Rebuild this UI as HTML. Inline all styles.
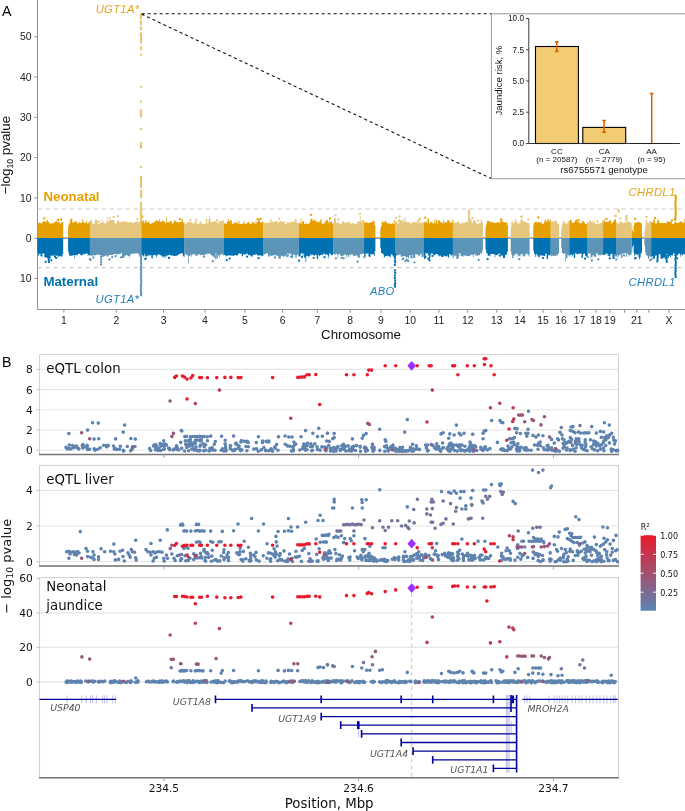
<!DOCTYPE html>
<html lang="en"><head><meta charset="utf-8"><title>Figure: neonatal jaundice GWAS</title>
<style>html,body{margin:0;padding:0;background:#fff}svg{display:block}</style></head><body>
<svg width="685" height="811" viewBox="0 0 685 811">
<rect width="685" height="811" fill="#fff"/>
<g font-family="'Liberation Sans',Arial,sans-serif">
<path d="M37.5 0V309.5 H685" fill="none" stroke="#8f8f8f" stroke-width="1"/>
<path d="M37.5 36.7h-3.2M37.5 77h-3.2M37.5 117.3h-3.2M37.5 157.6h-3.2M37.5 197.9h-3.2M37.5 238.2h-3.2M37.5 278.5h-3.2M63.9 309.5v3.2M116.3 309.5v3.2M163.6 309.5v3.2M205 309.5v3.2M244.9 309.5v3.2M282.6 309.5v3.2M317.3 309.5v3.2M350.2 309.5v3.2M381 309.5v3.2M410.3 309.5v3.2M439 309.5v3.2M467.7 309.5v3.2M496.8 309.5v3.2M520 309.5v3.2M543 309.5v3.2M561 309.5v3.2M579.5 309.5v3.2M596 309.5v3.2M609.9 309.5v3.2M624.6 309.5v3.2M636.8 309.5v3.2M648.8 309.5v3.2M668.9 309.5v3.2" fill="none" stroke="#8f8f8f" stroke-width="1"/>
<g font-size="10.4" fill="#222" text-anchor="end">
<text x="31.6" y="40.4">50</text>
<text x="31.6" y="80.7">40</text>
<text x="31.6" y="121">30</text>
<text x="31.6" y="161.3">20</text>
<text x="31.6" y="201.6">10</text>
<text x="31.6" y="241.9">0</text>
<text x="31.6" y="282.2">10</text>
</g>
<g font-size="10.4" fill="#222" text-anchor="middle">
<text x="63.9" y="324.4">1</text>
<text x="116.3" y="324.4">2</text>
<text x="163.6" y="324.4">3</text>
<text x="205" y="324.4">4</text>
<text x="244.9" y="324.4">5</text>
<text x="282.6" y="324.4">6</text>
<text x="317.3" y="324.4">7</text>
<text x="350.2" y="324.4">8</text>
<text x="381" y="324.4">9</text>
<text x="410.3" y="324.4">10</text>
<text x="439" y="324.4">11</text>
<text x="467.7" y="324.4">12</text>
<text x="496.8" y="324.4">13</text>
<text x="520" y="324.4">14</text>
<text x="543" y="324.4">15</text>
<text x="561" y="324.4">16</text>
<text x="579.5" y="324.4">17</text>
<text x="596" y="324.4">18</text>
<text x="609.9" y="324.4">19</text>
<text x="636.8" y="324.4">21</text>
<text x="668.9" y="324.4">X</text>
</g>
<text x="361" y="339.2" font-size="13.3" fill="#111" text-anchor="middle">Chromosome</text>
<text transform="translate(10.2 155) rotate(-90)" font-size="13.4" fill="#111" text-anchor="middle">−log<tspan font-size="8.6" dy="2.4">10</tspan><tspan dy="-2.4"> pvalue</tspan></text>
<text x="2" y="16.2" font-size="14.2" fill="#000">A</text>
<path d="M37.5 209H685M37.5 267.6H685" stroke="#c9c9c9" stroke-width="1.2" stroke-dasharray="4.2 3.8" fill="none"/>
<path d="M37.5 238H685" stroke="#333" stroke-width=".8" fill="none"/>
<path d="M37.3 238V225.8H38V223.6H38.7V222.6H39.4V222.8H40.1V223H40.8V223.2H41.5V223.6H42.2V221.8H42.9V222.1H43.6V220.9H44.3V220.9H45V221.7H45.7V221.9H46.4V220.1H47.1V220.1H47.8V221.7H48.5V221.7H49.2V223.4H49.9V223H50.6V224.1H51.3V223.6H52V223.1H52.7V223.4H53.4V223.2H54.1V221.9H54.8V221.6H55.5V222.1H56.2V220.2H56.9V221.9H57.6V222H58.3V222H59V222.1H59.7V223.5H60.4V223.5H61.1V222.5H61.8V221.9H62.5V222.6H63.2V225.5H63.2V238ZM68.1 238V225.9H68.8V222.3H69.5V223.9H70.2V218.8H70.9V218.8H71.6V218.8H72.3V222.8H73V222.3H73.7V222.4H74.4V220.9H75.1V221.4H75.8V221.5H76.5V221.8H77.2V223.4H77.9V223.3H78.6V222.9H79.3V221.8H80V223H80.7V222.8H81.4V223H82.1V219.2H82.8V221.7H83.5V221.5H84.2V223.1H84.9V223.1H85.6V222.7H86.3V220.7H87V223.4H87.7V223H88.4V223H89.1V221.3H89.8V221.2H90.5V217.7H90.5V238ZM140.9 238V219.7H141.6V222.1H142.3V220.4H143V220.4H143.7V221.6H144.4V223.2H145.1V220.3H145.8V220.3H146.5V223.1H147.2V222.1H147.9V221.8H148.6V220.9H149.3V223.7H150V223.6H150.7V223.9H151.4V223.3H152.1V222.9H152.8V222.6H153.5V222.9H154.2V221.2H154.9V221.3H155.6V221.4H156.3V220.2H157V220.2H157.7V221H158.4V221.2H159.1V218.9H159.8V221.8H160.5V221.8H161.2V221.7H161.9V221.3H162.6V220.5H163.3V221.1H164V221.2H164.7V222.7H165.4V223.2H166.1V217.7H166.8V222.3H167.5V222.4H168.2V222.2H168.9V222.4H169.6V221.5H170.3V221.1H171V220.8H171.7V223.7H172.4V223.6H173.1V222.9H173.8V220.6H174.5V220.6H175.2V221.3H175.9V221.4H176.6V222.1H177.3V222.3H178V222.3H178.7V222.1H179.4V222.2H180.1V222.3H180.8V221.6H181.5V219.3H182.2V219.3H182.9V222.8H183.6V221.9H184.3V221.7H184.3V238ZM223.4 238V222.3H224.1V223.6H224.8V223.7H225.5V223H226.2V223.8H226.9V221.5H227.6V221.2H228.3V218.6H229V221.4H229.7V220.8H230.4V220.1H231.1V220.6H231.8V223.6H232.5V224.1H233.2V224H233.9V223.1H234.6V221.9H235.3V222.8H236V223H236.7V220.6H237.4V223.5H238.1V223.6H238.8V220.8H239.5V223.9H240.2V223.8H240.9V223.9H241.6V223.5H242.3V223.8H243V223.6H243.7V221.1H244.4V223.2H245.1V223.9H245.8V223.9H246.5V223H247.2V222.9H247.9V221.2H248.6V222.6H249.3V223.7H250V223.5H250.7V223.9H251.4V223.8H252.1V221.4H252.8V222.4H253.5V221.9H254.2V223.4H254.9V223.8H255.6V220.1H256.3V223.3H257V221.8H257.7V221.2H258.4V218.5H259.1V218.5H259.8V222.5H260.5V222.4H261.2V222.5H261.9V221.7H262.6V221.8H263.3V221.9H263.3V238ZM298.5 238V223.7H299.2V222.8H299.9V223.6H300.6V218.7H301.3V223.8H302V221.7H302.7V221.3H303.4V221.1H304.1V223.9H304.8V223.9H305.5V222.7H306.2V223.6H306.9V223.9H307.6V223.7H308.3V223.7H309V223.2H309.7V222H310.4V218.8H311.1V218.8H311.8V218.6H312.5V220.6H313.2V220.4H313.9V220.4H314.6V219H315.3V221.3H316V221H316.7V222.2H317.4V221.9H318.1V221.9H318.8V221.5H319.5V222.5H320.2V219.5H320.9V219.5H321.6V223.2H322.3V224H323V223.4H323.7V224.2H324.4V221.4H325.1V222.2H325.8V220.1H326.5V220.1H327.2V220.1H327.9V222.3H328.6V222.9H329.3V220.4H330V221.9H330.7V221.8H331.4V221.7H332.1V224.1H332.8V222.5H333.5V223.8H333.5V238ZM363.5 238V219.7H364.2V222.4H364.9V222.7H365.6V223H366.3V221.4H367V222.6H367.7V222.9H368.4V223H369.1V222.4H369.8V222.6H370.5V222.5H371.2V222H371.9V221.7H372.6V221.7H373.3V220.6H374V220.9H374.7V225.4H375.4V229.7H375.4V238ZM380.3 238V228.4H381V225.9H381.7V221.4H382.4V221.4H383.1V222.5H383.8V222.2H384.5V221.4H385.2V220.5H385.9V221.4H386.6V222.9H387.3V223.5H388V223H388.7V223.5H389.4V223.8H390.1V223.7H390.8V223.9H391.5V223.4H392.2V223.3H392.9V223.4H393.6V224H394.3V219.8H395V221.9H395.7V222.2H395.7V238ZM423.3 238V222H424V222.5H424.7V221.6H425.4V221.7H426.1V221.8H426.8V223.4H427.5V218.4H428.2V218.4H428.9V223.4H429.6V222.2H430.3V222.1H431V222.4H431.7V221.5H432.4V223.5H433.1V223.1H433.8V223.6H434.5V219.3H435.2V222.7H435.9V220.1H436.6V220.1H437.3V224.1H438V220.5H438.7V220.5H439.4V220.5H440.1V222.4H440.8V222.1H441.5V222.1H442.2V223.5H442.9V219.6H443.6V223.4H444.3V221.4H445V222.6H445.7V221.9H446.4V222.7H447.1V220.4H447.8V219.6H448.5V220.5H449.2V221.4H449.9V222.6H450.6V223H451.3V222.5H452V221.5H452.7V219.2H453.4V219.2H453.4V238ZM485.5 238V227.2H486.2V224.1H486.9V221.1H487.6V220.4H488.3V220.9H489V221.2H489.7V221.8H490.4V222.3H491.1V221.9H491.8V222.4H492.5V221.8H493.2V222.9H493.9V222.7H494.6V222.9H495.3V222.8H496V222.9H496.7V222.1H497.4V222.2H498.1V222.5H498.8V221.9H499.5V223.2H500.2V218.6H500.9V218.6H501.6V218.6H502.3V222.1H503V221.7H503.7V222.2H504.4V222.5H505.1V222.4H505.8V221.7H506.5V222.8H507.2V225.2H507.9V229.9H507.9V238ZM533.3 238V224.7H534V222.7H534.7V221.8H535.4V221.8H536.1V221.7H536.8V222.7H537.5V222.2H538.2V222H538.9V222.5H539.6V222.1H540.3V222.7H541V221.4H541.7V223.7H542.4V223.8H543.1V223.7H543.8V222.7H544.5V219.4H545.2V220.5H545.9V221.6H546.6V221.4H547.3V219.2H548V219.2H548.7V222H549.4V219.8H550.1V219.8H550.8V219.8H550.8V238ZM568.9 238V222.5H569.6V220H570.3V219.6H571V220H571.7V223.1H572.4V223.1H573.1V222.7H573.8V222.6H574.5V221.5H575.2V219.8H575.9V219.8H576.6V219.8H577.3V221.7H578V221.7H578.7V221.8H579.4V223.5H580.1V223.2H580.8V223H581.5V223.2H582.2V220.5H582.9V221.3H583.6V221.4H584.3V222.9H585V223.9H585.7V224.3H586.4V224.1H587.1V222H587.8V221.4H587.8V238ZM602.7 238V223.6H603.4V220.4H604.1V219.3H604.8V221.6H605.5V222.2H606.2V222.1H606.9V221.9H607.6V221.3H608.3V221.9H609V220.3H609.7V219.9H610.4V221.1H611.1V223.9H611.8V222.6H612.5V222.6H613.2V221.7H613.9V219.4H614.6V219.4H615.3V219.4H616V222.4H616.7V222.2H616.7V238ZM631.5 238V225.5H632.2V229.9H632.9V232.5H633.6V225.6H634.3V222.6H635V222.8H635.7V222.8H636.4V222.3H637.1V221.4H637.8V221.9H638.5V222.4H639.2V221.7H639.9V222.4H640.6V222.7H641.3V224.3H642V224.9H642V238ZM650.7 238V221.9H651.4V221.5H652.1V222.5H652.8V222.3H653.5V219.4H654.2V219.4H654.9V223.6H655.6V223.4H656.3V223.6H657V221.6H657.7V219.5H658.4V219.5H659.1V223H659.8V223.1H660.5V222.8H661.2V222.9H661.9V223.1H662.6V223.1H663.3V223.2H664V222.9H664.7V223.2H665.4V222.9H666.1V223.3H666.8V221H667.5V221.8H668.2V221.4H668.9V221.7H669.6V221.2H670.3V221.7H671V221.6H671.7V223.4H672.4V224H673.1V224.1H673.8V223.6H674.5V222.1H675.2V222.3H675.9V222.2H676.6V222.9H677.3V222.9H678V222.9H678.7V222.8H679.4V221.5H680.1V221.3H680.8V221.8H681.5V221.9H682.2V222.3H682.9V222.6H683.6V223.3H684.3V218.9H685V218.9H685V238Z" fill="#E69F00"/>
<path d="M37.3 238V252.3H38V256.1H38.7V254.2H39.4V253.9H40.1V254.3H40.8V255.4H41.5V253.8H42.2V253.9H42.9V253.3H43.6V253.4H44.3V257.3H45V257.5H45.7V257.6H46.4V257.7H47.1V258.1H47.8V260.4H48.5V258.2H49.2V258.5H49.9V258.7H50.6V255.3H51.3V256.3H52V255.7H52.7V255.7H53.4V255.3H54.1V255.8H54.8V254.8H55.5V255.9H56.2V255.8H56.9V255.3H57.6V257.4H58.3V256.6H59V256.1H59.7V256.3H60.4V256.5H61.1V256.5H61.8V256.5H62.5V254.1H63.2V251.4H63.2V238ZM68.1 238V251.7H68.8V254.8H69.5V256H70.2V255.7H70.9V255.8H71.6V255.7H72.3V255.6H73V255.2H73.7V254.9H74.4V258.2H75.1V255.1H75.8V254.7H76.5V255.3H77.2V255.3H77.9V254.1H78.6V253.6H79.3V254H80V254.7H80.7V255.3H81.4V255.4H82.1V255.3H82.8V253.8H83.5V254.4H84.2V253.9H84.9V254H85.6V253.4H86.3V253.5H87V253.4H87.7V255.8H88.4V255.1H89.1V255.5H89.8V255.1H90.5V253.8H90.5V238ZM140.9 238V255H141.6V255.8H142.3V255H143V256.5H143.7V256.5H144.4V253.7H145.1V256.1H145.8V258.8H146.5V255.8H147.2V255.8H147.9V255.6H148.6V255.4H149.3V255.3H150V255.6H150.7V254.9H151.4V258.5H152.1V258.5H152.8V255.3H153.5V255.1H154.2V255.2H154.9V254.8H155.6V255.6H156.3V257H157V255.6H157.7V254.2H158.4V254.6H159.1V254.5H159.8V255H160.5V255.4H161.2V255.6H161.9V256.4H162.6V257.4H163.3V256.6H164V256.2H164.7V258.2H165.4V255.7H166.1V256.4H166.8V255.4H167.5V255.4H168.2V255.1H168.9V254.8H169.6V255H170.3V255.2H171V255.8H171.7V255.2H172.4V255.4H173.1V255.9H173.8V255.9H174.5V255.9H175.2V255.7H175.9V256H176.6V255.4H177.3V255.3H178V254.8H178.7V254H179.4V254H180.1V253.7H180.8V253.1H181.5V253.2H182.2V253.7H182.9V256.1H183.6V256.8H184.3V261.7H184.3V238ZM223.4 238V255.5H224.1V254.9H224.8V254.7H225.5V255.8H226.2V256.4H226.9V255.8H227.6V255.5H228.3V255.3H229V255.5H229.7V255.3H230.4V255.8H231.1V255.6H231.8V255.5H232.5V255.4H233.2V255.9H233.9V255.8H234.6V255H235.3V255.1H236V255.4H236.7V255.8H237.4V255.1H238.1V253.7H238.8V253.5H239.5V253.2H240.2V254H240.9V253.5H241.6V256.3H242.3V256.3H243V254.3H243.7V254.2H244.4V254.7H245.1V254.4H245.8V253.6H246.5V254.3H247.2V253.6H247.9V254.9H248.6V255.6H249.3V254.7H250V255.3H250.7V256.2H251.4V256.5H252.1V256.4H252.8V254.8H253.5V254.7H254.2V255H254.9V254.6H255.6V254.3H256.3V254.2H257V255H257.7V256.1H258.4V255.2H259.1V255.5H259.8V255H260.5V256.2H261.2V255.5H261.9V256.3H262.6V256H263.3V255.4H263.3V238ZM298.5 238V256.3H299.2V256.7H299.9V256.2H300.6V253.5H301.3V253.6H302V253.2H302.7V256H303.4V253.6H304.1V257.8H304.8V257.8H305.5V262.2H306.2V255.8H306.9V256.2H307.6V256.1H308.3V256.7H309V256.4H309.7V255.8H310.4V254H311.1V255.2H311.8V254.9H312.5V254.5H313.2V255.4H313.9V255.4H314.6V255.5H315.3V254.8H316V254.7H316.7V259.1H317.4V259.1H318.1V254.7H318.8V255.7H319.5V256.5H320.2V255H320.9V254.7H321.6V254.9H322.3V254.8H323V253.7H323.7V254.6H324.4V253.6H325.1V255.1H325.8V254.3H326.5V254.5H327.2V254.9H327.9V258.3H328.6V255.8H329.3V253.3H330V253.4H330.7V255.2H331.4V254.9H332.1V255.2H332.8V254.1H333.5V254.6H333.5V238ZM363.5 238V253H364.2V256.8H364.9V256.8H365.6V253.3H366.3V253.7H367V253.5H367.7V253.1H368.4V256.3H369.1V256.9H369.8V256.9H370.5V253.9H371.2V254.5H371.9V254H372.6V254.2H373.3V254.5H374V256H374.7V251.1H375.4V246.1H375.4V238ZM380.3 238V247.7H381V253.1H381.7V253.1H382.4V253.8H383.1V254.2H383.8V257.2H384.5V257.2H385.2V256.1H385.9V255.9H386.6V256.2H387.3V255.5H388V256.2H388.7V256.2H389.4V256.5H390.1V257.5H390.8V254.3H391.5V254.5H392.2V255.3H392.9V256.4H393.6V257H394.3V256.8H395V256.5H395.7V253.8H395.7V238ZM423.3 238V254.9H424V258.8H424.7V259.4H425.4V253.1H426.1V253.4H426.8V253.6H427.5V253.1H428.2V255.8H428.9V260H429.6V258.4H430.3V254.8H431V253.3H431.7V253.7H432.4V253.6H433.1V254.9H433.8V254.8H434.5V255.4H435.2V254.4H435.9V254H436.6V254.3H437.3V253.9H438V255.5H438.7V256.4H439.4V255.5H440.1V255.5H440.8V256.2H441.5V256.9H442.2V256.9H442.9V256.9H443.6V255.8H444.3V255.5H445V256.2H445.7V256.8H446.4V256H447.1V255.5H447.8V257.6H448.5V257.6H449.2V254H449.9V253.9H450.6V255.5H451.3V255.4H452V254.4H452.7V258.2H453.4V257.6H453.4V238ZM485.5 238V249.4H486.2V252.9H486.9V253.4H487.6V255.2H488.3V255.9H489V255.5H489.7V256.2H490.4V254.2H491.1V253.8H491.8V253.9H492.5V254H493.2V254H493.9V254.1H494.6V257.3H495.3V254.9H496V255.2H496.7V254.7H497.4V255H498.1V253.4H498.8V253.9H499.5V253.2H500.2V255.3H500.9V255.6H501.6V255.5H502.3V255.8H503V258H503.7V258H504.4V258H505.1V254.8H505.8V254.9H506.5V254.2H507.2V251.4H507.9V246.5H507.9V238ZM533.3 238V250.8H534V253.5H534.7V254.7H535.4V257H536.1V254.3H536.8V254.4H537.5V256H538.2V257.2H538.9V257.4H539.6V255.5H540.3V255.3H541V255.8H541.7V255.5H542.4V255.3H543.1V256H543.8V256H544.5V256H545.2V253.9H545.9V253.5H546.6V259H547.3V259H548V255.2H548.7V255.3H549.4V255.6H550.1V254.5H550.8V256H550.8V238ZM568.9 238V254.9H569.6V256.4H570.3V254.5H571V254.7H571.7V254.7H572.4V256.3H573.1V253.9H573.8V257.9H574.5V257.9H575.2V253.1H575.9V253.8H576.6V253.7H577.3V254.7H578V253.8H578.7V253.4H579.4V253.9H580.1V253.3H580.8V253.8H581.5V258H582.2V258H582.9V253.9H583.6V253.8H584.3V253.6H585V255.8H585.7V255.9H586.4V256.8H587.1V255.7H587.8V257.6H587.8V238ZM602.7 238V255.1H603.4V254.8H604.1V254.8H604.8V255.2H605.5V253.6H606.2V253.7H606.9V253.4H607.6V255.8H608.3V255.7H609V256.6H609.7V256.6H610.4V253.8H611.1V253.9H611.8V253.8H612.5V258.9H613.2V258.9H613.9V258.9H614.6V254.1H615.3V256.2H616V256.3H616.7V256.3H616.7V238ZM631.5 238V251.5H632.2V246.9H632.9V244.9H633.6V253.2H634.3V256.6H635V254.7H635.7V254.3H636.4V254.5H637.1V255.2H637.8V253.8H638.5V257.6H639.2V259.4H639.9V257.6H640.6V253.8H641.3V252.4H642V250.1H642V238ZM650.7 238V256.3H651.4V256.4H652.1V256.2H652.8V258.7H653.5V258.7H654.2V258.7H654.9V255.8H655.6V255.5H656.3V255.3H657V257.7H657.7V257.7H658.4V254.6H659.1V254.1H659.8V254.2H660.5V258.7H661.2V258.7H661.9V258.7H662.6V257.9H663.3V257.7H664V257.3H664.7V259H665.4V259H666.1V254.4H666.8V254.1H667.5V257.9H668.2V257.9H668.9V256.1H669.6V255.4H670.3V257.2H671V255.3H671.7V255.6H672.4V255.6H673.1V253.2H673.8V253.2H674.5V256H675.2V255.9H675.9V255H676.6V255.7H677.3V254.8H678V254.3H678.7V253.9H679.4V253.2H680.1V256.8H680.8V254.4H681.5V254.7H682.2V255.4H682.9V254.3H683.6V254.3H684.3V254.2H685V254.1H685V238Z" fill="#0072B2"/>
<path d="M89.8 238V222.4H90.5V219.8H91.2V219.8H91.9V221.9H92.6V224.2H93.3V224.1H94V224H94.7V219.7H95.4V219.4H96.1V219.9H96.8V220.2H97.5V223.2H98.2V224H98.9V224.2H99.6V222.5H100.3V222.9H101V222.5H101.7V219.4H102.4V222.4H103.1V221.2H103.8V223.2H104.5V223.3H105.2V223.5H105.9V222.8H106.6V216.8H107.3V221H108V221.7H108.7V220.8H109.4V220.3H110.1V220.1H110.8V219.8H111.5V220.3H112.2V219.9H112.9V220.1H113.6V220.2H114.3V223.1H115V223.7H115.7V223.1H116.4V223.4H117.1V220.7H117.8V220.8H118.5V220.4H119.2V222.3H119.9V222H120.6V222.3H121.3V221.7H122V221.6H122.7V221.7H123.4V220.9H124.1V221.8H124.8V221.7H125.5V222.1H126.2V220.9H126.9V222H127.6V221.9H128.3V222.2H129V222.2H129.7V222.3H130.4V222.6H131.1V221.8H131.8V222.9H132.5V222.8H133.2V222.7H133.9V222.8H134.6V221.9H135.3V222.1H136V221.2H136.7V221.2H137.4V222.3H138.1V222.2H138.8V222H139.5V222H140.2V221.4H140.9V222.4H141.6V221.5H141.6V238ZM184.1 238V223.5H184.8V223.9H185.5V224.1H186.2V223.6H186.9V221.8H187.6V222.2H188.3V221.5H189V222.6H189.7V222.1H190.4V222H191.1V221.8H191.8V223.4H192.5V222.7H193.2V223.2H193.9V223.4H194.6V221.9H195.3V218.2H196V218.2H196.7V223.7H197.4V223.9H198.1V223.7H198.8V223.7H199.5V222.1H200.2V221H200.9V222.2H201.6V223.8H202.3V223.5H203V223.7H203.7V223.7H204.4V223.7H205.1V223.8H205.8V218.4H206.5V218.4H207.2V223.4H207.9V222.7H208.6V219.3H209.3V215.9H210V219.3H210.7V222.1H211.4V222.6H212.1V221.4H212.8V222H213.5V221.7H214.2V221.1H214.9V221.1H215.6V222H216.3V221.7H217V223.2H217.7V220.2H218.4V223.7H219.1V221.2H219.8V221.1H220.5V221.6H221.2V221H221.9V220.5H222.6V220.7H223.3V220.6H224V220.6H224V238ZM263.1 238V222.2H263.8V222H264.5V223.3H265.2V222.9H265.9V222.6H266.6V222.9H267.3V223.2H268V222.4H268.7V222.7H269.4V223.2H270.1V219.4H270.8V219.4H271.5V222.5H272.2V221.3H272.9V222.4H273.6V222.7H274.3V221.5H275V221.1H275.7V220.7H276.4V221.1H277.1V222.8H277.8V222.7H278.5V221.6H279.2V222.3H279.9V221H280.6V221.6H281.3V221.6H282V221.9H282.7V221.7H283.4V222H284.1V220.7H284.8V224.2H285.5V223.7H286.2V223.8H286.9V222.7H287.6V221.6H288.3V222.7H289V222.8H289.7V222H290.4V221.5H291.1V222.5H291.8V221.7H292.5V221.7H293.2V221.6H293.9V220.4H294.6V221.8H295.3V222.1H296V221.9H296.7V222.4H297.4V223.1H298.1V223.1H298.8V220.3H298.8V238ZM333.3 238V223H334V218.3H334.7V218.3H335.4V218.3H336.1V223H336.8V222.8H337.5V222.3H338.2V223H338.9V222.5H339.6V223.9H340.3V223.9H341V224H341.7V221.6H342.4V221.5H343.1V221.1H343.8V221.9H344.5V222.7H345.2V223H345.9V222.6H346.6V222.4H347.3V222.2H348V222.1H348.7V221.8H349.4V223.4H350.1V222.7H350.8V223.7H351.5V223.4H352.2V223.1H352.9V223.3H353.6V223.2H354.3V224H355V224.3H355.7V223.5H356.4V224.2H357.1V222.1H357.8V221.6H358.5V221.7H359.2V221.3H359.9V215.8H360.6V221H361.3V221.7H362V219.8H362.7V220.8H363.4V220.6H364.1V223.9H364.1V238ZM395 238V221.7H395.7V221.1H396.4V221.8H397.1V223.4H397.8V223H398.5V223.8H399.2V218.4H399.9V220.2H400.6V220.5H401.3V219.6H402V219.8H402.7V223H403.4V218.8H404.1V221.1H404.8V216.9H405.5V222.1H406.2V221.4H406.9V222.6H407.6V222.5H408.3V222.5H409V222.1H409.7V222.8H410.4V223.5H411.1V223.7H411.8V222.2H412.5V222.1H413.2V222.3H413.9V222.1H414.6V222.4H415.3V221.6H416V221.4H416.7V223.3H417.4V219.8H418.1V219.8H418.8V223.5H419.5V222.6H420.2V221.9H420.9V220.9H421.6V223.6H422.3V223.1H423V223.8H423.7V223.9H423.7V238ZM452.8 238V222.3H453.5V222.8H454.2V223H454.9V222.7H455.6V222.7H456.3V222.7H457V221.8H457.7V221.6H458.4V221.3H459.1V223.6H459.8V224H460.5V223.3H461.2V222.6H461.9V222.6H462.6V223.2H463.3V223.2H464V222.8H464.7V222.3H465.4V222.3H466.1V222.1H466.8V221.8H467.5V221.4H468.2V221.3H468.9V221.2H469.6V219.1H470.3V219.1H471V219.8H471.7V222.8H472.4V222.4H473.1V220.3H473.8V220.3H474.5V220.3H475.2V221.5H475.9V222.4H476.6V223.5H477.3V224.2H478V223.7H478.7V223.6H479.4V222.7H480.1V223H480.8V219.5H481.5V219.9H482.2V223H482.9V229.7H482.9V238ZM510.7 238V226.7H511.4V221.8H512.1V221.1H512.8V223.2H513.5V223.2H514.2V221.8H514.9V219.2H515.6V219.2H516.3V222.1H517V223.5H517.7V224H518.4V221.3H519.1V223.4H519.8V222.8H520.5V219.4H521.2V219.4H521.9V219.4H522.6V221.7H523.3V221.2H524V221.2H524.7V222.1H525.4V222.2H526.1V222.1H526.8V223H527.5V222.7H528.2V223.3H528.9V223H529.6V226.2H529.6V238ZM550.7 238V221.7H551.4V221.9H552.1V221.4H552.8V221.8H553.5V221.8H554.2V220.7H554.9V220.7H555.6V221.1H556.3V221.4H557V223.4H557.7V223.4H558.4V223.7H559.1V224.2H559.1V238ZM561.2 238V228.8H561.9V224.3H562.6V221.5H563.3V221.3H564V221.4H564.7V223.5H565.4V223.3H566.1V223H566.8V223.5H567.5V223.6H568.2V221H568.9V221H569.6V223.5H569.6V238ZM587.1 238V222.4H587.8V222H588.5V222.7H589.2V219H589.9V221.5H590.6V221.4H591.3V221.7H592V220.8H592.7V222.2H593.4V223.2H594.1V220.2H594.8V223.4H595.5V223.7H596.2V223.7H596.9V223.8H597.6V223.4H598.3V223.5H599V223.5H599.7V222.9H600.4V223H601.1V223.4H601.8V220.4H602.5V220.8H603.2V220.9H603.2V238ZM616.2 238V223.7H616.9V224.2H617.6V223.1H618.3V223.1H619V223.9H619.7V221.6H620.4V221.1H621.1V221.4H621.8V222.8H622.5V223.1H623.2V223H623.9V222.4H624.6V221.8H625.3V222.5H626V222.2H626.7V221.3H627.4V221H628.1V222H628.8V221.8H629.5V222H630.2V222.1H630.9V222.7H631.6V226.8H631.6V238ZM644.4 238V230.8H645.1V226.1H645.8V220.1H646.5V219.7H647.2V222.7H647.9V223.3H648.6V223.1H649.3V221H650V221.6H650.7V221.6H651.4V222H651.4V238Z" fill="#E6C67B"/>
<path d="M89.8 238V255H90.5V255.8H91.2V255.8H91.9V255.7H92.6V255.6H93.3V255.1H94V255.3H94.7V255.7H95.4V255.1H96.1V254.6H96.8V254.8H97.5V254.9H98.2V254.4H98.9V255.1H99.6V254.9H100.3V255.6H101V256H101.7V255.6H102.4V257.1H103.1V257.1H103.8V256.1H104.5V256.4H105.2V255.8H105.9V254.8H106.6V256.5H107.3V256.5H108V256.5H108.7V254.8H109.4V255.1H110.1V254.9H110.8V254.9H111.5V254.7H112.2V255.2H112.9V254H113.6V254.6H114.3V253.9H115V254.1H115.7V254.3H116.4V254.5H117.1V253.9H117.8V254.4H118.5V254H119.2V254H119.9V254.2H120.6V253H121.3V253.2H122V257.9H122.7V258H123.4V257.9H124.1V256.8H124.8V255.8H125.5V255.3H126.2V255.1H126.9V255.2H127.6V256H128.3V256H129V257.4H129.7V255.8H130.4V253.9H131.1V254.3H131.8V253.7H132.5V253.2H133.2V253.6H133.9V253.9H134.6V253.4H135.3V253H136V253.2H136.7V253.6H137.4V253.2H138.1V254H138.8V256.8H139.5V254.6H140.2V256.3H140.9V255.2H141.6V256.5H141.6V238ZM184.1 238V257.1H184.8V253.7H185.5V254.5H186.2V254.8H186.9V255.1H187.6V255.7H188.3V263.3H189V256.2H189.7V256H190.4V254.5H191.1V256.7H191.8V254.5H192.5V254.4H193.2V254.3H193.9V254.4H194.6V254H195.3V255.7H196V256.2H196.7V255.3H197.4V255.6H198.1V254.4H198.8V254.3H199.5V254.6H200.2V255.4H200.9V254.8H201.6V255H202.3V254.7H203V255.7H203.7V254.9H204.4V254.8H205.1V254.5H205.8V253.8H206.5V254.2H207.2V253.6H207.9V253.7H208.6V254H209.3V253.6H210V253.9H210.7V255.2H211.4V255.5H212.1V255.4H212.8V256.7H213.5V256.7H214.2V256.7H214.9V256.4H215.6V253.4H216.3V258.6H217V258.6H217.7V255.1H218.4V255.7H219.1V257.6H219.8V254.9H220.5V254.4H221.2V254.1H221.9V254.5H222.6V254.3H223.3V254.1H224V254.9H224V238ZM263.1 238V254.4H263.8V254.2H264.5V253.9H265.2V253.9H265.9V253.2H266.6V253.4H267.3V253.3H268V256.8H268.7V256.8H269.4V255.4H270.1V255.5H270.8V255.7H271.5V256.1H272.2V255.7H272.9V255H273.6V255.4H274.3V255.2H275V254.8H275.7V255.5H276.4V255.8H277.1V255.4H277.8V255.9H278.5V257.9H279.2V259.1H279.9V259.1H280.6V256.6H281.3V255.5H282V256H282.7V256.5H283.4V256.7H284.1V256.2H284.8V256.2H285.5V254.9H286.2V256.6H286.9V255.7H287.6V253H288.3V255.9H289V253.3H289.7V253.8H290.4V254.5H291.1V254.5H291.8V258.3H292.5V258.3H293.2V254.4H293.9V254.5H294.6V255H295.3V257.8H296V257.8H296.7V254.9H297.4V254.6H298.1V255.6H298.8V256H298.8V238ZM333.3 238V253.9H334V254.1H334.7V254.5H335.4V254.7H336.1V253.8H336.8V254H337.5V257.6H338.2V254.4H338.9V254.3H339.6V253.8H340.3V256.1H341V256H341.7V255.8H342.4V256.2H343.1V255.6H343.8V254.7H344.5V254.4H345.2V254.7H345.9V257.5H346.6V255.2H347.3V254.9H348V256.8H348.7V256.8H349.4V254.7H350.1V254.6H350.8V254.8H351.5V254.1H352.2V254.4H352.9V256.2H353.6V256H354.3V255.7H355V255.6H355.7V255.3H356.4V256.2H357.1V255.6H357.8V257.8H358.5V257.8H359.2V257.8H359.9V254.1H360.6V254.4H361.3V254H362V254H362.7V253.7H363.4V253.7H364.1V253.9H364.1V238ZM395 238V256.2H395.7V256H396.4V255.3H397.1V255.2H397.8V255.6H398.5V255.1H399.2V254.6H399.9V254.6H400.6V256.5H401.3V256.8H402V256.4H402.7V256.4H403.4V256H404.1V255.9H404.8V255.9H405.5V257H406.2V258H406.9V257.1H407.6V257.5H408.3V258.7H409V255.2H409.7V255.6H410.4V255.7H411.1V255.5H411.8V258.4H412.5V254.8H413.2V258.2H413.9V258H414.6V257.7H415.3V254.1H416V254.2H416.7V254.7H417.4V254.6H418.1V255.7H418.8V255.6H419.5V255.7H420.2V253.7H420.9V254.1H421.6V255.4H422.3V253.2H423V253.2H423.7V253.1H423.7V238ZM452.8 238V255.5H453.5V256.8H454.2V255.4H454.9V256.2H455.6V255.4H456.3V259H457V259H457.7V259H458.4V253.9H459.1V253.2H459.8V253.3H460.5V255.5H461.2V255.9H461.9V256H462.6V257H463.3V255.4H464V255.7H464.7V255.2H465.4V255.4H466.1V256.2H466.8V255.9H467.5V255.7H468.2V255.9H468.9V256.3H469.6V256.3H470.3V254.6H471V254.8H471.7V255.2H472.4V254.9H473.1V257.3H473.8V254.1H474.5V253.9H475.2V255.5H475.9V255.4H476.6V255.5H477.3V255.8H478V254.9H478.7V255.6H479.4V255H480.1V253.3H480.8V253.4H481.5V253.3H482.2V250.6H482.9V248.5H482.9V238ZM510.7 238V251.8H511.4V255.1H512.1V258.2H512.8V258.2H513.5V255.4H514.2V254.8H514.9V254.7H515.6V253.7H516.3V253.8H517V253.9H517.7V256.7H518.4V255.5H519.1V256.1H519.8V256.5H520.5V254.3H521.2V254.2H521.9V253.8H522.6V256.2H523.3V256.4H524V255.6H524.7V256.6H525.4V253.7H526.1V253.6H526.8V253.6H527.5V255.1H528.2V255.3H528.9V256.5H529.6V253.4H529.6V238ZM550.7 238V256.2H551.4V256.2H552.1V255.4H552.8V256.2H553.5V255.8H554.2V255.8H554.9V256H555.6V255.6H556.3V255.2H557V255.4H557.7V253.9H558.4V253.5H559.1V250.7H559.1V238ZM561.2 238V247.8H561.9V253H562.6V253.1H563.3V254.1H564V253.8H564.7V253H565.4V261.5H566.1V258.1H566.8V258.2H567.5V254.6H568.2V255.5H568.9V255H569.6V255.1H569.6V238ZM587.1 238V254H587.8V253.2H588.5V253.3H589.2V254H589.9V253.2H590.6V258.5H591.3V256.7H592V256.8H592.7V254.7H593.4V255.7H594.1V256.7H594.8V256.7H595.5V256.7H596.2V253.5H596.9V253H597.6V254.8H598.3V255.5H599V255H599.7V255.5H600.4V255H601.1V254.8H601.8V255.3H602.5V254.4H603.2V254.6H603.2V238ZM616.2 238V256.4H616.9V254.8H617.6V258.6H618.3V255.8H619V255.1H619.7V255.6H620.4V253.9H621.1V258H621.8V258H622.5V253.1H623.2V254H623.9V253.3H624.6V253.1H625.3V253.6H626V257H626.7V253.2H627.4V253.8H628.1V255H628.8V255.2H629.5V255.8H630.2V254.6H630.9V254.5H631.6V251H631.6V238ZM644.4 238V245.8H645.1V252.2H645.8V255.1H646.5V255.8H647.2V255.8H647.9V258.7H648.6V258.7H649.3V256.2H650V256.5H650.7V258.1H651.4V256.8H651.4V238Z" fill="#5C95B8"/>
<path d="M44.2 218.4h0M58.2 220h0M61.1 219.5h0M142.2 216.5h0M179.9 219.2h0M257.6 219.2h0M260.6 218.8h0M310.9 214.9h0M329.9 218.5h0M425.3 217.7h0M538.2 217.5h0M578.5 220.2h0M615.5 215.9h0M635.2 218.9h0M671.9 220.5h0M675 219.5h0M675.4 195.5h0M675.8 197h0M675.8 198.5h0M675.7 200h0M675.7 201.5h0M675.4 203h0M675.4 204.5h0M675.5 206h0M675.6 207.5h0M675.6 209h0M675.8 210.5h0M675.6 212h0M675.8 214h0M675.4 216h0M675.5 218h0M675.4 220h0M606.4 218.8h0M655.1 218.2h0" fill="none" stroke="#E69F00" stroke-width="2.3" stroke-linecap="round"/>
<path d="M41.5 255.5h0M45.7 261.8h0M51.4 260.3h0M55 256.4h0M56.1 258.1h0M145.3 259h0M169 257.9h0M226.8 260.2h0M229.6 258.6h0M247.1 256.7h0M258.6 258.1h0M299.2 260.8h0M302 257h0M313.7 257.8h0M324.5 257.2h0M425.4 256.9h0M428.3 258.6h0M429.5 260.4h0M432.4 255.9h0M487.6 259.2h0M499.7 255.7h0M543.1 258.1h0M585.1 258.7h0M609.8 258.4h0M635.1 258.4h0M635.7 258.2h0M677.1 258.3h0M395.1 254h0M395 256h0M394.9 258h0M395.1 260.5h0M395.1 262.5h0M394.8 265h0M395 270.5h0M395.2 273h0M394.9 275.5h0M394.8 278h0M395.2 280.5h0M395.2 283h0M394.8 285h0M395.1 286.8h0M675.8 256h0M675.7 258h0M675.4 260h0M675.8 262h0M675.8 264h0M675.7 265.5h0M675.5 267h0M675.7 268.5h0M675.6 270h0M675.6 271.5h0M675.4 273h0M675.4 274.5h0M675.6 276h0M675.7 277h0M666.8 256h0M666.6 258h0M666.7 260h0M666.7 261.8h0M657.7 256h0M657.5 258h0M657.6 259.8h0M657.3 261.4h0M48.9 256h0M48.9 258h0M48.8 260h0M48.9 262h0" fill="none" stroke="#0072B2" stroke-width="2.3" stroke-linecap="round"/>
<path d="M98.9 221.7h0M109.4 218.3h0M113.6 217h0M117.9 216.2h0M137.4 218.9h0M190.5 220.1h0M217.1 220.3h0M279.3 218.8h0M295.8 220.2h0M335.5 215.4h0M338.4 219.5h0M360.1 213.8h0M396.3 217.8h0M398.7 220.8h0M399.7 216.5h0M419 220.2h0M420 218.6h0M472.4 218h0M478.1 220.6h0M521.3 216.9h0M522 216.4h0M528.2 219.6h0M597.7 221.3h0M620.4 218.3h0M646.6 216.8h0M469.2 210.5h0M468.9 212h0M469.2 214h0M469 216h0M468.9 218h0M469.1 220h0M618.5 210h0M618.8 211.8h0M615.8 215.8h0M626.4 216h0M626.5 218h0M626.2 220h0" fill="none" stroke="#E6C67B" stroke-width="2.3" stroke-linecap="round"/>
<path d="M89.8 259.1h0M90.6 260h0M93.4 257.5h0M109.4 259.5h0M112.3 257.2h0M115.6 256.2h0M121.1 257.3h0M203.9 256.7h0M212.8 261.2h0M215.5 257.5h0M275 257.5h0M287.5 256.1h0M291 256.7h0M298.9 260.3h0M335.9 258.3h0M341.6 257.9h0M343.7 258.3h0M357.7 261.7h0M364.3 257.1h0M402.5 259.3h0M403.4 258.4h0M405.4 260.9h0M406.9 259.8h0M408.3 261.2h0M411.3 257.1h0M414.5 262.3h0M422.5 256.2h0M422.9 255.1h0M458.4 255.6h0M478.6 259.9h0M519.2 259.2h0M587.7 256.9h0M591.9 260.5h0M598.3 259.5h0M616.2 259.6h0M624.1 255.5h0M650.1 260.3h0M651.5 259.4h0M141.1 254h0M140.9 255.6h0M141.1 257.1h0M141.2 258.6h0M141.1 260.2h0M141 261.8h0M141.1 263.3h0M141.2 264.9h0M141.1 266.4h0M140.8 267.9h0M140.9 269.5h0M141.1 271.1h0M141.2 272.6h0M140.9 274.1h0M141.2 275.7h0M141.1 277.2h0M140.9 278.8h0M141.2 280.4h0M141.1 281.9h0M141.2 283.4h0M140.9 285h0M140.9 286.6h0M141.2 288.1h0M140.8 289.6h0M140.9 291.2h0M141.2 292.8h0M141.2 292.5h0M140.9 294h0M141.1 295.2h0M101.1 257h0M101.2 259.5h0M101.1 262h0M101.1 264.5h0" fill="none" stroke="#5C95B8" stroke-width="2.3" stroke-linecap="round"/>
<path d="M140.9 14.3h0M140.8 15.3h0M140.9 16.3h0M140.8 17.3h0M140.9 18.3h0M140.8 21.3h0M140.9 22.8h0M141 24.3h0M141 27.5h0M140.8 29.3h0M140.8 33.5h0M140.8 35h0M141.1 36.5h0M141.2 38h0M141 39.5h0M141.1 41h0M141.1 42.5h0M140.9 47.5h0M141.2 49.3h0M141.1 54.6h0M141.1 86.8h0M141 101.7h0M140.8 110.5h0M140.8 112.5h0M141 114.5h0M141 116.5h0M140.9 129.1h0M141.2 143h0M140.8 144.8h0M140.9 146.5h0M141 147.6h0M140.9 166.9h0M140.9 177h0M141.2 178.4h0M141 179.9h0M141 181.3h0M141.1 182.8h0M141 184.2h0M140.8 185.7h0M141.2 187.2h0M141.2 191h0M141.2 192.5h0M141.1 194h0M141.1 195.5h0M141.1 197h0M140.9 203h0M140.8 204.3h0M140.9 205.6h0M141.1 206.9h0M141 208.2h0M141.1 209.5h0M141.2 210.8h0M140.8 212.1h0M140.8 213.4h0M140.9 214.7h0M141.1 216h0M141.2 217.3h0M141 218.6h0M141.2 219.9h0M141.1 221.2h0" fill="none" stroke="#E8BF62" stroke-width="2.3" stroke-linecap="round"/>
<g font-style="italic" font-size="11.2" letter-spacing=".35">
<text x="95.7" y="12.8" fill="#E3A21A">UGT1A*</text>
<text x="95.5" y="302.6" fill="#1F7FBA">UGT1A*</text>
<text x="370" y="295.1" fill="#1F7FBA">ABO</text>
<text x="628.6" y="195.9" fill="#E3A21A">CHRDL1</text>
<text x="628.6" y="285.8" fill="#1F7FBA">CHRDL1</text>
</g>
<text x="43.4" y="200.7" font-size="13.3" font-weight="bold" fill="#E69F00">Neonatal</text>
<text x="43.4" y="285.5" font-size="13.3" font-weight="bold" fill="#0072B2">Maternal</text>
<path d="M141.6 13.8H491.4M141.6 14.2L491.4 178.6" stroke="#111" stroke-width="1.1" stroke-dasharray="3.1 2.9" fill="none"/>
<rect x="491.4" y="13.8" width="200" height="164.9" fill="#fff" stroke="#9a9a9a" stroke-width="1"/>
<g stroke="#000" stroke-width="1.1" fill="#F2CB73">
<rect x="535.5" y="46.5" width="42.9" height="97"/>
<rect x="582.8" y="127.4" width="42.9" height="16.1"/>
<path d="M630.1 143.5H672.8"/>
</g>
<path d="M556.8 41.8V51.4M555 41.8h3.6M555 51.4h3.6M604.1 120.6V132.3M602.3 120.6h3.6M602.3 132.3h3.6M651.7 93.4V143.5M649.9 93.4h3.6" stroke="#D55E00" stroke-width="1.5" fill="none"/>
<path d="M528.8 18.4V143.5H680M528.8 143.5h-2.6M528.8 112.2h-2.6M528.8 81h-2.6M528.8 49.8h-2.6M528.8 18.5h-2.6" stroke="#222" stroke-width=".9" fill="none"/>
<g font-size="8.2" fill="#111" text-anchor="end">
<text x="524" y="146.4">0.0</text>
<text x="524" y="115.2">2.5</text>
<text x="524" y="83.9">5.0</text>
<text x="524" y="52.6">7.5</text>
<text x="524" y="21.4">10.0</text>
</g>
<g font-size="8" fill="#111" text-anchor="middle">
<text x="556.9" y="153.9">CC</text><text x="556.9" y="162.3">(n = 20587)</text>
<text x="604.2" y="153.9">CA</text><text x="604.2" y="162.3">(n = 2779)</text>
<text x="651.5" y="153.9">AA</text><text x="651.5" y="162.3">(n = 95)</text>
</g>
<text x="604" y="172.5" font-size="9.6" fill="#111" text-anchor="middle">rs6755571 genotype</text>
<text transform="translate(502.2 80.6) rotate(-90)" font-size="9.6" fill="#111" text-anchor="middle">Jaundice risk, %</text>
</g>
<g font-family="'DejaVu Sans','Liberation Sans',sans-serif">
<text x="2" y="367" font-size="14.2" fill="#000" font-family="'Liberation Sans',Arial,sans-serif">B</text>
<rect x="39.5" y="354.5" width="578.9" height="100" fill="#fff" stroke="#d3d3d3" stroke-width="1.1"/>
<path d="M40 369.4H617.9M40 389.6H617.9M40 409.8H617.9M40 430H617.9M40 450.2H617.9" stroke="#e6e6e6" stroke-width="1.1" fill="none"/>
<path d="M39 454.5H618.9" stroke="#777" stroke-width="1.4" fill="none"/>
<path d="M163.9 454.5v3.4M358.6 454.5v3.4M553.4 454.5v3.4" stroke="#999" stroke-width=".9" fill="none"/>
<path d="M36.4 369.4H39.5M36.4 389.6H39.5M36.4 409.8H39.5M36.4 430H39.5M36.4 450.2H39.5" stroke="#bdbdbd" stroke-width=".9" fill="none"/>
<g font-size="10.67" fill="#111" text-anchor="end">
<text x="32.8" y="373.3">8</text>
<text x="32.8" y="393.5">6</text>
<text x="32.8" y="413.7">4</text>
<text x="32.8" y="433.9">2</text>
<text x="32.8" y="454.1">0</text>
</g>
<rect x="39.5" y="465.5" width="578.9" height="100.5" fill="#fff" stroke="#d3d3d3" stroke-width="1.1"/>
<path d="M40 490.4H617.9M40 526H617.9M40 561.6H617.9" stroke="#e6e6e6" stroke-width="1.1" fill="none"/>
<path d="M39 566H618.9" stroke="#777" stroke-width="1.4" fill="none"/>
<path d="M163.9 566v3.4M358.6 566v3.4M553.4 566v3.4" stroke="#999" stroke-width=".9" fill="none"/>
<path d="M36.4 490.4H39.5M36.4 526H39.5M36.4 561.6H39.5" stroke="#bdbdbd" stroke-width=".9" fill="none"/>
<g font-size="10.67" fill="#111" text-anchor="end">
<text x="32.8" y="494.3">4</text>
<text x="32.8" y="529.9">2</text>
<text x="32.8" y="565.5">0</text>
</g>
<rect x="39.5" y="577.6" width="578.9" height="200.2" fill="#fff" stroke="#d3d3d3" stroke-width="1.1"/>
<path d="M40 612.9H617.9M40 647.4H617.9M40 681.9H617.9" stroke="#e6e6e6" stroke-width="1.1" fill="none"/>
<path d="M39 777.8H618.9" stroke="#777" stroke-width="1.4" fill="none"/>
<path d="M163.9 777.8v3.4M358.6 777.8v3.4M553.4 777.8v3.4" stroke="#999" stroke-width=".9" fill="none"/>
<path d="M36.4 578.5H39.5M36.4 612.9H39.5M36.4 647.4H39.5M36.4 681.9H39.5" stroke="#bdbdbd" stroke-width=".9" fill="none"/>
<g font-size="10.67" fill="#111" text-anchor="end">
<text x="32.8" y="582.4">60</text>
<text x="32.8" y="616.8">40</text>
<text x="32.8" y="651.3">20</text>
<text x="32.8" y="685.8">0</text>
</g>
<g font-size="13.33" fill="#111">
<text x="46.3" y="372.6">eQTL colon</text>
<text x="46.3" y="483.7">eQTL liver</text>
<text x="46.3" y="591.2">Neonatal</text>
<text x="46.3" y="610.4">jaundice</text>
<text x="329.2" y="807.5" text-anchor="middle">Position, Mbp</text>
<text transform="translate(10.5 566.2) rotate(-90)" text-anchor="middle" font-size="13.1">− log<tspan font-size="9.3" dy="2.6">10</tspan><tspan dy="-2.6"> pvalue</tspan></text>
</g>
<g font-size="10.67" fill="#111" text-anchor="middle">
<text x="163.9" y="792.4">234.5</text>
<text x="358.6" y="792.4">234.6</text>
<text x="553.4" y="792.4">234.7</text>
</g>
<path d="M411.7 578.5V777" stroke="#c8c8c8" stroke-width="1" stroke-dasharray="4 3.2" fill="none"/>
<path d="M68.9 433.6h0M87.6 430.1h0M92.6 422.7h0M98.3 423.1h0M94.1 439.1h0M98.7 438.7h0M115.6 438.9h0M123.2 432.1h0M124.6 425.1h0M130.9 438.5h0M135.3 439.1h0M163.7 440.9h0M181.3 430.6h0M305.5 430.6h0M318.8 428.2h0M312.9 433.2h0M327.4 433.2h0M181.8 431h0M407.3 419.6h0M456.4 425.1h0M379.7 429.3h0M404.7 432.1h0M366.2 433.6h0M363.5 435.4h0M362.2 438.2h0M327.6 433.2h0M334.2 433.6h0M332.7 438.7h0M334.2 437.6h0M352.4 438.9h0M343.4 444.2h0M385.2 439.8h0M385.9 441.5h0M392.9 445h0M412.6 444.2h0M441 433.9h0M443.2 432.8h0M449.8 433.9h0M454.2 435h0M459.2 433.2h0M460.8 435h0M464 433.2h0M472.8 434.3h0M448.7 438.2h0M442.6 443h0M436.7 443.7h0M450.9 443h0M456.4 445h0M461.9 445h0M470 442h0M528.5 411.3h0M491.7 420.5h0M500 420.5h0M501.3 422.3h0M502.8 422.7h0M472.6 434.3h0M484.2 431h0M485.8 430.6h0M483.1 433.2h0M483.1 438.7h0M514.9 428.4h0M517 428.8h0M516.6 432.8h0M520.4 433.6h0M525.8 433.2h0M528 433.2h0M528 429.3h0M533 435.4h0M538.5 435h0M543 435.8h0M509.4 438.7h0M512.7 438.7h0M497.4 442.4h0M571.2 427h0M572.9 426.6h0M570.3 430.6h0M573 431.4h0M575 432.8h0M578.4 432h0M580.6 433h0M583.9 433h0M585.4 432.8h0M588.9 432.8h0M591.7 426.6h0M600.3 431.4h0M603.6 432h0M604.4 422.7h0M609.3 425.1h0M611.7 433.2h0M606.8 435.8h0M604.7 437.6h0M608.4 437.6h0M560.2 432.8h0M562 435h0M570.3 437.6h0M569.6 442h0M576.2 438.7h0M578.8 438.7h0M590.4 439.8h0M557.6 438.7h0M564 439.8h0M184.8 436.5h0M186.6 436.6h0M190.5 436.9h0M192.7 436.5h0M195.3 436.5h0M197.5 436.6h0M199.7 436.2h0M201.9 436.5h0M204.1 436.6h0M207.4 436.8h0M210.7 436.1h0M221.6 436.3h0M233.6 436.1h0M258.4 436.8h0M278.5 436.7h0M285.1 436h0M288.8 437h0M292.1 437h0M301.1 436.7h0M317.5 436.6h0M322.3 436.2h0M66 447.4h0M69 448.5h0M73.7 447.8h0M74.7 446.8h0M77.2 447.7h0M83 444.5h0M77.9 448.3h0M70.7 448.9h0M72.6 445.6h0M69.3 445.1h0M82.7 448h0M76.6 446h0M67.2 448.2h0M78.8 448.9h0M67.4 449h0M87 447.1h0M87.2 445.3h0M94.9 450.2h0M87.6 449.5h0M97.7 449.2h0M87.6 448.6h0M94.9 450.3h0M87.6 449.5h0M89.6 449.3h0M85.5 446.9h0M94.2 448.8h0M100.3 447.8h0M119.5 449.2h0M120.3 446.2h0M106.6 446.7h0M106.7 445.4h0M114.5 448.4h0M103.7 445.3h0M116.4 449h0M114.3 448.9h0M116.7 449.4h0M113.6 446h0M108.3 445.6h0M123.2 450.4h0M123.8 450.7h0M130.7 450.8h0M135 446.6h0M132.3 449.1h0M123.5 451h0M131.6 449.6h0M127.3 446.5h0M156.7 445.9h0M160.6 446.2h0M164.3 449.1h0M164 444.5h0M161.7 444.6h0M158.3 448.9h0M158 450.4h0M165.9 444.4h0M153.5 445.9h0M154.5 444.8h0M160.9 450.5h0M155.4 449.8h0M155.7 447.1h0M150.7 450.5h0M159.4 449.9h0M164.1 446.6h0M163.8 449.2h0M149.6 448.5h0M164.2 444.4h0M157.5 449.3h0M155.7 444.9h0M160.1 443.6h0M168.7 448.3h0M169.4 448.5h0M173.9 449.1h0M181.7 448.3h0M166.5 445.2h0M177.3 447.6h0M178.7 450h0M173.3 450h0M169.8 449.7h0M176.1 448.3h0M176.5 445.7h0M177 449.5h0M184.5 451h0M197.9 450.2h0M188.6 444.3h0M195.4 443.3h0M199.8 440.7h0M203.3 443.9h0M191.3 445.3h0M189.4 446.1h0M199.9 440.1h0M196.3 450.1h0M200.5 445.1h0M185.3 440.9h0M204.4 446.6h0M188 440.7h0M188.7 450.8h0M193.8 443.1h0M180.7 442.4h0M200 450.3h0M199.7 450.5h0M192.9 443.8h0M197.2 440h0M203.7 450.8h0M193.2 449.3h0M196 446.7h0M194 449.1h0M201.1 440.9h0M201.3 439.6h0M194.3 450.1h0M192.6 445.6h0M204.2 446.8h0M200 446.2h0M197.3 450.8h0M190.3 439.8h0M186.7 447.4h0M190.8 442.3h0M191.9 449.1h0M195.4 440.4h0M199.5 451h0M185.7 444.4h0M188.9 445.4h0M234.2 450.6h0M215 450.2h0M222.5 448.7h0M226.2 450.4h0M230.3 445.6h0M239.1 446h0M214.3 444.2h0M241.1 449.3h0M241.9 450h0M240.5 450.6h0M234.1 449.7h0M238.3 448.2h0M210 448.4h0M205.7 450.2h0M241.5 440.6h0M225.2 443.9h0M232.4 450.2h0M209.2 450.9h0M225.6 446.5h0M212.4 450.1h0M244.6 441.3h0M207.5 440.8h0M235.6 449.2h0M225.6 448.1h0M205.5 444.8h0M212.3 447.9h0M221.2 450.2h0M225.5 451h0M237.1 444.7h0M230.2 448.4h0M225.2 440.3h0M215.3 441.5h0M236.1 443.1h0M240.9 442h0M235.7 443.8h0M233.9 450.8h0M223.8 451h0M230.5 445.8h0M287.5 445.9h0M274.7 447.1h0M262.5 441h0M276.6 444.6h0M246 446.5h0M256.5 448.8h0M253.8 449.1h0M256.3 442.5h0M267.9 441.5h0M289.8 446.2h0M248.4 446.7h0M247 442.1h0M266.2 450.6h0M272.5 451.1h0M263.9 447.5h0M261.5 449.8h0M270.2 449.8h0M258.3 451.2h0M246.9 450.7h0M262.5 442.6h0M247.3 441.2h0M248.3 442.5h0M266.5 441.4h0M268.6 442h0M266.1 441.3h0M272.2 450.9h0M265.5 450.4h0M268.8 450.8h0M275.1 448.3h0M271.2 448.7h0M268.9 441h0M278 450.2h0M285.2 444.3h0M261.2 449.9h0M312.6 446.2h0M320.1 450.2h0M329.2 441.4h0M291.6 450.9h0M307 445.8h0M311.7 450.8h0M317.1 446.8h0M304.9 447.6h0M303.7 444.1h0M293 450.6h0M314.9 443.8h0M307 449.7h0M304.8 445.4h0M303 446.8h0M326.8 448.2h0M293.9 442.1h0M293.3 446.6h0M317.4 449.4h0M293 450.1h0M293.3 449.4h0M317.8 449.5h0M304.3 444.4h0M294.7 444.7h0M326.7 441h0M307.5 443.3h0M302.7 448.5h0M325.8 449.8h0M304.6 448.8h0M305.5 450.2h0M321.9 446.9h0M312.5 450.3h0M310.6 446.8h0M328.7 445.5h0M292.6 446.8h0M293.4 450.8h0M326 450.8h0M295.8 444.1h0M299.8 450h0M310.9 443.8h0M341.7 445.8h0M349.4 449.2h0M360.1 446.3h0M365.9 448.3h0M364.9 447h0M372.4 448.5h0M360.1 447.2h0M345.8 451h0M374.1 450.1h0M335.1 449.8h0M373 451.2h0M330.7 448.4h0M333.9 451.2h0M353.9 446.3h0M330.4 450.9h0M336.7 447.9h0M336.1 450.9h0M333.5 447.6h0M352.1 447.1h0M337.9 446.5h0M341.9 449.1h0M348.9 450.8h0M371.9 447.2h0M351.1 449.3h0M374 448.3h0M325.5 449.6h0M364.4 447.9h0M332.8 451h0M337.8 446.7h0M356.5 445.6h0M351.5 451h0M325.1 447.1h0M365.7 451.2h0M360.5 451.2h0M348.2 445.9h0M367.4 450.4h0M345.6 446.3h0M365.9 450.8h0M351 451h0M340.4 450.4h0M340.1 449.6h0M342.8 448.1h0M344.5 449.6h0M343.7 447.9h0M374.1 447.2h0M355.5 450.5h0M401.1 450.5h0M395.1 448.4h0M387.2 448h0M417.7 449.1h0M392.6 447.2h0M384.8 451.2h0M408 450.9h0M413.3 448.9h0M388.3 451h0M395.7 451.2h0M396.5 449.4h0M410.4 447.3h0M395.4 448.2h0M411.4 448.5h0M379.8 450.4h0M405.7 451.1h0M399.9 447.5h0M404.1 451h0M416 449.2h0M399.5 451.1h0M419.5 449.4h0M413.3 450.9h0M404.7 450.9h0M389 449h0M392.5 446.4h0M398 451.1h0M384.6 446.6h0M402 449.1h0M416.3 445.9h0M403.7 451.1h0M390.8 446.7h0M402.5 447.2h0M401.5 451.2h0M386.4 445.9h0M406 450.5h0M409.2 450.1h0M412 451.3h0M398.2 451.1h0M402.4 451h0M389.8 449.1h0M405.3 451.3h0M384.9 446.2h0M398.3 450h0M459.8 446.6h0M449.3 444.1h0M468.5 449.6h0M453.4 445.1h0M451.3 449.4h0M440.7 451.2h0M470.8 446.9h0M463.1 450.2h0M427.6 451h0M450.1 449.6h0M460.1 448.7h0M439.9 449.6h0M427.6 445h0M458.6 445.5h0M465.9 450.6h0M453.5 445.1h0M465.2 451h0M473.5 451.3h0M439.6 450.1h0M470.5 446h0M442.5 448.2h0M425.6 445.1h0M449.9 444.8h0M448.6 450.7h0M472 445.2h0M467.6 449.9h0M432.9 445.4h0M434.5 447.8h0M469.8 451.2h0M461.7 450.2h0M469.2 447h0M460.2 444.7h0M428.1 450.6h0M460.9 450.8h0M436.2 447.5h0M443.4 447.5h0M454.7 450.6h0M472.2 447.5h0M457.3 451.1h0M446.9 448.7h0M426.4 448.1h0M437 446.2h0M438.8 446.6h0M438.5 448.5h0M470.6 444.1h0M448 446.7h0M472.3 448.9h0M452.9 447.7h0M458.2 446.4h0M450.3 445.7h0M451.1 444.6h0M464.5 450.9h0M436.2 449.3h0M464.9 446.3h0M449.4 450.6h0M449.9 451.3h0M485.7 448.5h0M480.9 449.2h0M475.8 447h0M490 448.5h0M487.4 450h0M476.8 450.5h0M483.7 448.7h0M483 450.4h0M473.8 449.9h0M485.2 446.8h0M471.3 449.3h0M474.8 445.7h0M480.8 447.3h0M473.2 449.1h0M470.9 450h0M500.8 449.3h0M504.5 450.4h0M511.9 446.9h0M502 449.9h0M502.1 448.9h0M503.7 449.5h0M506.9 450.5h0M507.4 450.4h0M508 446.1h0M510.5 448.9h0M543.4 447.8h0M517 448.2h0M531.1 450.2h0M517 446.6h0M526.8 436.2h0M544.2 449.8h0M511.1 442.7h0M519.5 451h0M519 447.6h0M538 449.2h0M514.4 437.5h0M540.2 442.1h0M508.9 448.6h0M511.5 438.7h0M540.4 445.7h0M524.5 449.5h0M514.3 444.5h0M521.1 447.2h0M513.7 442.4h0M538.5 443.2h0M516.6 449h0M525 447.7h0M517.5 448.9h0M517.1 450.9h0M534.5 445h0M549 448.8h0M546.6 449.7h0M536 437.1h0M517.9 443.8h0M526 447.6h0M524.1 448.5h0M519.8 450.2h0M528 450.1h0M518.1 450.7h0M525.7 450.3h0M537.5 445.2h0M548.6 448.1h0M551.5 447.9h0M582.2 445.2h0M570.1 449.7h0M571.6 439.4h0M565.6 443.8h0M580.3 444.7h0M572.7 445.4h0M601.8 444.5h0M576.2 447.8h0M605.9 439.7h0M611.6 451.2h0M583 449.1h0M616.4 450.6h0M563.2 443.6h0M547.1 445.9h0M564 446.7h0M585.9 444.6h0M606 437.7h0M571.6 439.5h0M597.8 443.3h0M615.4 440.8h0M591.1 446.7h0M573.2 449.4h0M584.9 449.9h0M570.1 450.4h0M555.9 451.1h0M554.3 443.1h0M579.1 441.8h0M558.5 439.9h0M550.8 449.7h0M603.5 448.1h0M564.9 442.9h0M570.7 442.1h0M605.8 445.5h0M597.2 444.6h0M603.9 450.8h0M594.5 449.9h0M548 445.2h0M615.9 450.7h0M576.8 444.4h0M613.3 437.3h0M597.6 450.8h0M567.3 442.6h0M555.5 448.9h0M585.5 446.8h0M569 441.3h0M567.1 448.1h0M601.3 437.4h0M596.3 445.9h0M557.4 450.4h0M613.3 449.7h0M587.2 450.7h0M566.5 450h0M573 449.6h0M551.6 439.4h0M552.6 450.4h0M617.8 450.2h0M581.4 447.8h0M575.1 451.2h0M593.6 444.6h0M613.7 440h0M578.5 440.6h0M559.5 451.3h0M555.4 451.1h0M600.5 449.1h0M547.7 450.1h0M547.8 446.2h0M603.3 442.6h0M604 440.7h0M617 450.9h0M575.6 443.1h0M611.6 451.3h0M563.1 448.2h0M593.6 441.1h0M592.3 448.6h0M611.3 449h0M570.8 442.4h0M599.8 445.9h0M564.3 444.6h0M585.2 442h0M587.4 433h0M609.4 442.9h0M559.9 432.3h0M614.6 443.9h0M598.2 444.2h0M596.3 433.1h0M564.7 442.5h0M562.5 438.7h0M594.2 443.9h0M609.8 434.9h0M585.3 439.7h0M606.6 437.8h0M595.6 441.8h0" fill="none" stroke="#5e83af" stroke-width="3.6" stroke-linecap="round"/>
<path d="M372.5 444.2h0M431.2 444.6h0M561.3 427.5h0M580 425.5h0M82.3 445.5h0M366.1 448.4h0M352.9 449.6h0M575.4 441.6h0" fill="none" stroke="#73739b" stroke-width="3.6" stroke-linecap="round"/>
<path d="M81.6 432.8h0M89.7 438.7h0M170.1 401h0M173.4 433.4h0M171.9 436.5h0M367.7 423.4h0M369.4 424.4h0M518.6 415h0M520.8 415h0M522.5 415h0M532 419.6h0M533.5 420.5h0M524.7 421.8h0M544.4 416.8h0M541 424.9h0M549.5 437h0M132.5 446.8h0M325.2 449.6h0M392.6 450h0M474 450.3h0M555.5 448.9h0" fill="none" stroke="#96587a" stroke-width="3.6" stroke-linecap="round"/>
<path d="M195.3 403.6h0M219.4 390.1h0M290.8 418.3h0M432.3 390.1h0M427 422h0M490.4 407.8h0M499.8 403.2h0M513.1 407.8h0M513.8 419h0M512.7 421.4h0M506.8 440.2h0" fill="none" stroke="#bb3c57" stroke-width="3.6" stroke-linecap="round"/>
<path d="M509 429h0" fill="none" stroke="#d32a40" stroke-width="3.6" stroke-linecap="round"/>
<path d="M174.7 377.4h0M176.4 376h0M182.4 376h0M184.5 377h0M187 379.1h0M190.9 378h0M192.7 375.6h0M199.7 377.6h0M201.5 377.6h0M207.4 377.8h0M216.8 377.6h0M224.9 377.4h0M230.8 377.4h0M238.2 377.6h0M240.9 377.6h0M272.6 377.6h0M297.8 377.4h0M300 377.2h0M302.2 377h0M304.4 376.9h0M307 374.8h0M309.2 374.7h0M315.8 374.5h0M319.7 404.5h0M346.5 374.7h0M353.9 374.7h0M367.3 374.7h0M368.8 370.1h0M371.6 370.1h0M385.2 365.8h0M395.7 365.8h0M417.2 365.8h0M429.2 365.8h0M431.2 365.8h0M452.7 365.8h0M454.6 365.8h0M457.9 374.7h0M467.3 365.8h0M474.3 365.8h0M484.2 358.8h0M485.8 358.8h0M491 365.8h0M494.2 374.7h0M484.5 364.5h0M187 399h0" fill="none" stroke="#e81a2c" stroke-width="3.6" stroke-linecap="round"/>
<path d="M407.4 365.8l4.3 -4.9l4.3 4.9l-4.3 4.9z" fill="#9B30FF"/>
<path d="M80.3 531.6h0M68.9 558.3h0M86 548.5h0M87.6 551.3h0M87.6 556.6h0M90.8 557.2h0M93 558.3h0M94.1 559.4h0M93 551.8h0M94.1 555h0M98.5 556.8h0M98.5 559.6h0M101.1 548.7h0M104.6 551.8h0M110.5 551.3h0M113.8 551.8h0M114.9 554h0M113.8 544.1h0M115.4 559.9h0M118.6 559.4h0M120 551.3h0M122.6 550.2h0M123 556.6h0M124.3 561h0M128 552.9h0M129.2 555h0M130.2 557.2h0M131.3 549.6h0M132.4 551.8h0M134.6 552.2h0M135.7 540.2h0M135.7 557.7h0M136.2 559.9h0M146 549.6h0M147.8 551.8h0M150 552.2h0M151 555h0M151 543.5h0M153.2 551.8h0M155 552.9h0M157.6 551.8h0M159.8 551.8h0M162 552.2h0M154.3 558.3h0M156.5 557.2h0M153.2 561h0M160.2 540.2h0M164.2 561h0M163.7 558.3h0M166.4 555h0M167.5 558.3h0M167.3 529.9h0M171.9 554h0M174 558.3h0M175.1 560.5h0M177.3 555.7h0M180.6 525.1h0M182.8 525.1h0M183.9 531h0M183.9 548.5h0M180.6 560.5h0M66.7 551.8h0M68.9 551.4h0M71.1 552.2h0M73.3 551.8h0M75.5 552.4h0M77.7 551.6h0M70 554h0M74.4 554.4h0M76.6 555h0M79 553h0M251.6 518.5h0M288.4 518.5h0M320.1 515.2h0M318 520.5h0M323 520.5h0M305.7 522.2h0M297.6 527h0M291 527h0M238 524h0M263.6 524h0M276 536.4h0M316.2 539h0M322.3 535.4h0M324.5 535.4h0M326.7 535h0M328.9 534.3h0M267.1 543.7h0M244.2 541.3h0M276.3 541.9h0M277.2 546h0M379.7 489.8h0M334.2 499.2h0M334.2 501.9h0M332.7 508h0M333.8 508h0M352.4 508h0M361.8 499.7h0M366.2 499.7h0M362.2 502.5h0M362.2 508h0M407.3 506.9h0M441.5 491.6h0M448.7 492.2h0M450.9 493.3h0M454.2 491.1h0M456.4 493.3h0M460.8 491.6h0M464 491.6h0M472.8 490.5h0M460.1 498.1h0M471 498.1h0M461.9 509h0M465.8 505.8h0M465.8 509h0M471.7 504.7h0M461.9 539h0M353.9 535.8h0M325 535.4h0M328.3 535.4h0M333.8 537.5h0M336 536.4h0M338.1 537.5h0M341.4 535.8h0M344.7 538.6h0M350.2 538.6h0M351.3 540.8h0M343.6 542.6h0M364.9 538.6h0M369.9 546.3h0M383 547.8h0M385.2 547.8h0M326 541.9h0M431.6 543.5h0M436.7 543.5h0M329.4 550.7h0M334.9 549.6h0M354.6 550.7h0M362.2 549.6h0M364.9 549.6h0M363.3 551.8h0M404.9 551.8h0M418.7 551.8h0M417 553.5h0M414.3 555h0M412.6 556.2h0M435.6 550.7h0M434.5 554h0M436.7 555h0M437.8 556.6h0M459.7 550.2h0M457.5 552.2h0M458.6 554h0M448.7 552.9h0M425.3 554.4h0M532.6 470.1h0M542.9 470.1h0M538.5 472.5h0M551.5 486.1h0M550.6 487.8h0M491.5 484.6h0M499.6 484.6h0M501.1 483.9h0M500.2 485.6h0M472.6 490.5h0M483.6 490h0M485.8 490h0M500.7 491.6h0M483.1 503h0M471.1 498.1h0M513.1 501.4h0M515.3 503.6h0M575.8 516.7h0M579 519.6h0M602.9 527h0M607.5 527.7h0M616 535.4h0M528.5 532.7h0M565.2 529.4h0M567.4 528.8h0M559.3 532.1h0M554.3 536.4h0M558 536.9h0M569.6 533.2h0M571.8 533.8h0M571.2 536h0M572.9 537.5h0M575.1 537.5h0M577.3 537.5h0M579.5 537.5h0M580.6 537.3h0M567.4 538.6h0M569.6 539.7h0M571.8 541.3h0M574 542.6h0M533.5 537.5h0M535.7 539h0M537.9 539h0M541.2 539h0M521.9 541.3h0M523.6 541.3h0M529.1 541.3h0M531.3 541.3h0M533.5 541.3h0M535.7 541.3h0M537.9 541.3h0M540.1 541.3h0M543.4 541.5h0M543.8 542.6h0M594.4 537.1h0M604 538.2h0M607.5 539.7h0M605.8 541.9h0M613.4 540.4h0M610.1 544.1h0M478.1 541.3h0M484.9 541.3h0M497.8 547h0M524.7 547h0M554.3 544.8h0M556.5 549.6h0M557.6 551.3h0M561.5 548.5h0M577.3 542.6h0M579.5 545.2h0M582.8 543h0M585 541.9h0M588.2 547h0M591.5 547.4h0M593.7 549.6h0M595.9 550.7h0M597 552.9h0M600.3 546.3h0M603.6 544.1h0M604.7 549.6h0M606.8 551.8h0M612.3 548.5h0M615.6 550.7h0M570.3 549.1h0M572.5 551.8h0M577.3 550.7h0M581.2 551.3h0M507.2 548h0M506.1 550.7h0M509.4 550.7h0M517.7 544.8h0M517.7 548.5h0M522.5 555h0M184.4 530.7h0M186.6 531.1h0M190.9 531.1h0M195.3 531h0M197.5 530.5h0M199.7 531.1h0M201.9 530.9h0M204.1 531.1h0M210.7 531.1h0M222.3 531.4h0M233.6 530.7h0M258.4 531h0M278.1 531.5h0M284.4 531.2h0M288.4 530.8h0M291.7 531.2h0M181.1 524.4h0M182.6 524.4h0M196.4 524.4h0M198.6 524.4h0M196.4 542.3h0M198.6 541.8h0M200.1 542.2h0M210.7 541.6h0M212.8 542.3h0M219 541.9h0M221.2 541.7h0M320.1 542.2h0M323.4 542h0M326.3 542.3h0M211.8 556.1h0M193.7 559.6h0M185.1 555.8h0M214.4 560h0M239.9 551.9h0M243.4 551.4h0M205.6 561.1h0M204.2 550h0M188.2 560.6h0M239.4 554.8h0M185 547.3h0M224 549.8h0M193.8 553.9h0M181.1 558.9h0M224.1 559.6h0M228.6 560.6h0M228.6 557.2h0M188.1 548.3h0M205 560.4h0M228.4 552.6h0M201.7 558h0M224.2 557.8h0M208.6 557.4h0M245.9 558.8h0M196.5 555.4h0M241.1 559.5h0M227.4 557.4h0M207.1 552.5h0M211.4 561.3h0M199.7 557.6h0M200.5 553.4h0M197.1 558h0M242.7 559.9h0M203.9 550.9h0M221.3 556h0M242.8 561.2h0M206.2 552.9h0M204.1 549.3h0M181.6 554.5h0M205.3 557.2h0M227 555h0M248.4 547.2h0M238 554.2h0M249.8 561.3h0M208.1 554.1h0M249.3 560.3h0M190 558.2h0M185.8 560.7h0M223.6 552.5h0M236.8 552.7h0M240.2 548.3h0M181.7 558.8h0M217.4 561.1h0M201.1 556.6h0M219.8 560.9h0M215.9 559.5h0M197.3 558h0M195.2 557.4h0M212.2 550.3h0M318 560.8h0M292 558.3h0M319.1 548.8h0M250.9 560.8h0M308.8 553.6h0M292.5 561.5h0M274.1 548.7h0M317.8 561.4h0M256.3 559.9h0M323.5 559.2h0M302.3 550.4h0M295.4 557h0M281.6 559.5h0M270.7 558.8h0M288.1 558.9h0M286.1 561.4h0M254.9 556.6h0M282 560.3h0M279.8 559.4h0M268.4 553h0M250.7 558.3h0M250.6 555.6h0M279.3 555.6h0M274.1 555.4h0M275.2 557.1h0M310.3 561.4h0M270.2 559.8h0M284 550.9h0M272.9 554.2h0M328.7 551.5h0M275.4 551.7h0M301.4 561.4h0M253.8 555.1h0M324.7 552.9h0M250.4 553.2h0M304.4 548.4h0M256 552.4h0M310.1 558.7h0M285 561.1h0M308.8 561.3h0M316.7 554.5h0M259.1 561.1h0M326.3 556.2h0M266.9 558.2h0M317.1 561h0M287.8 561.4h0M280.2 554.3h0M289.5 554.1h0M312.3 561.1h0M263.3 555.8h0M277.7 560.8h0M297.3 556.8h0M295.9 551.2h0M296.7 557.3h0M276.2 553.9h0M270.9 553.3h0M270.6 561.3h0M280.2 553.6h0M299.4 556.2h0M322.8 557.7h0M268.5 552.9h0M339.4 554.7h0M357.8 557.5h0M340.7 560.1h0M360.9 555.2h0M361.9 559.8h0M350.1 557.1h0M360.9 557.3h0M368.4 556.4h0M369.7 556.1h0M365.3 556h0M336.7 560.5h0M336.9 559.4h0M331.2 558.1h0M338.4 559.5h0M366.1 560.1h0M365.2 557.1h0M359.5 557.7h0M368.2 555.5h0M327.6 553.7h0M362 559.8h0M342.4 556h0M348.8 557.5h0M335.9 553.6h0M369.2 556.7h0M367.4 560.3h0M330.6 553.1h0M366 560.4h0M328.2 560.5h0M371.2 556.4h0M361.9 557.9h0M349.8 560h0M341.6 558h0M358.1 558.6h0M328.7 558.1h0M370.7 557.5h0M339.1 559.2h0M369.1 553.3h0M368.5 554.6h0M325.9 558.1h0M357.2 557.1h0M368.9 560.4h0M370.1 560.5h0M406.6 556.4h0M372.3 557.4h0M392.3 559.2h0M404.1 561.5h0M403.6 556.2h0M387.7 560.5h0M371.6 557.9h0M395 559.5h0M398.7 559.9h0M407.2 561.2h0M381.4 559.8h0M384.6 560.9h0M381.7 559.6h0M407 561.1h0M383.4 560.6h0M398.6 557.7h0M374.2 557.9h0M379.9 560.2h0M386.2 560.4h0M411.6 560.3h0M403.4 557.8h0M403.4 560.3h0M395.3 558.1h0M404.6 561.5h0M386.6 561.4h0M376.9 561.1h0M410.4 556.6h0M409.2 561.3h0M409.8 561.1h0M398.8 557h0M409.9 559.9h0M375.9 560.8h0M373.9 561.1h0M373 560.7h0M376 559.5h0M394.3 557.9h0M409.8 561.4h0M374.1 560.7h0M408.9 559.7h0M384.5 559.3h0M434.2 554.3h0M428.9 555.5h0M417.3 554.6h0M412.7 556.3h0M413.5 560.1h0M418.2 556h0M430.3 558.6h0M412.4 559.5h0M419.3 557.5h0M425.2 557.4h0M422 555.2h0M423.7 558.1h0M421.3 554.9h0M438.2 555.5h0M416.6 558.3h0M420.1 560.1h0M418.6 557.8h0M438.5 559.6h0M431.2 559.3h0M425.9 554.8h0M422.6 560.5h0M450.4 557.4h0M457.2 560.3h0M457.9 556.8h0M450.8 558.5h0M469 559.8h0M468.9 559.7h0M458.6 558.6h0M474.1 558.1h0M451.2 554.8h0M453 559.9h0M470.2 555.2h0M473.1 556.4h0M465.9 555.2h0M447.2 555.1h0M449.5 553.9h0M458.9 559.1h0M462.4 554h0M463.5 560.4h0M444.8 553.2h0M451.9 560h0M467.5 553.2h0M445.4 556h0M471.4 555.6h0M471.6 557.5h0M463.4 558.1h0M453.4 560.5h0M468.8 559.8h0M468.1 556.3h0M452.1 559.6h0M463.7 556.4h0M452.6 553.9h0M451.2 553.6h0M474.7 555.5h0M450.8 557.8h0M442.2 554.6h0M457.6 555.8h0M448 557.4h0M452.5 560.4h0M453.4 557.8h0M463.4 558.7h0M475.2 558.5h0M472.7 558.7h0M486.8 558.1h0M490.6 555.8h0M481.9 555h0M474.2 556.7h0M473.3 558.1h0M485.8 557h0M486.9 557.5h0M480 558.7h0M480.4 555.4h0M471.2 559.9h0M485.3 558.7h0M479.4 557.9h0M478.9 557.5h0M483.5 560h0M472.8 560h0M470.4 559.9h0M480.3 559.9h0M488.7 558.4h0M501.7 553.2h0M501.6 560.3h0M504.6 559.1h0M510.3 560.1h0M507.6 558.8h0M503.6 558.7h0M506.4 559.1h0M508.6 558.7h0M510.2 558.7h0M510.5 553.3h0M503 556.8h0M501.4 556.2h0M538.2 556.5h0M538.1 560.6h0M533.6 552.3h0M540.5 561.5h0M542.7 560.4h0M520.8 559.3h0M519.9 553.3h0M535.3 554.6h0M527.7 557.4h0M542.5 555.5h0M522.1 556.1h0M533.8 552.2h0M543.2 559.9h0M550 560.3h0M533.1 558.4h0M537 553.6h0M523.6 554.8h0M517.8 557.2h0M533.2 552.1h0M550.1 559.7h0M515 560.1h0M539.6 554.5h0M567.2 559.3h0M549.7 559.1h0M558.4 559.8h0M613.3 560.4h0M556.2 561.5h0M599.7 560.3h0M596.7 561.8h0M608.2 560.7h0M597 559.6h0M563.3 557.9h0M578.9 552.6h0M590.7 549.3h0M563.6 555.8h0M615.5 559.5h0M578.2 552.3h0M595.4 561h0M597.4 560.7h0M609.1 560.6h0M564 554.3h0M596.7 561.6h0M586 556.4h0M551.1 559.4h0M590 551.7h0M555.1 561.8h0M560.3 560.2h0M596.7 559.7h0M568.2 556.7h0M573.2 560.4h0M566.3 561.8h0M589.4 560.2h0M607.2 558h0M569.8 551.2h0M591.6 555.2h0M583 558.7h0M583.3 558h0M585.3 553h0M563.7 561.8h0M550.2 552.9h0M568 560.9h0M606.5 554.8h0M600.1 558.2h0M586.7 551.4h0M612.2 552.2h0M565.3 549.6h0M584 559.8h0M584.2 549.2h0M617.5 561.8h0M575.3 555.5h0M587.4 550.2h0M601.4 556.3h0M560.1 558.1h0M595.2 560.7h0M586.1 559.6h0M592.2 561.8h0M594 560.7h0M601.3 559.6h0M587.1 561.5h0M566.4 552.6h0M601.1 561.7h0M603.9 561.2h0M550.1 561.1h0M615.1 559.7h0M610.6 555.2h0M601.5 545.2h0M599.2 553.4h0M585.8 549h0M596.3 544.6h0M587 545.5h0M577.8 555.2h0M587.5 546.8h0M617.1 549.7h0M591.5 548.9h0M577.5 552.1h0M597.8 555.9h0" fill="none" stroke="#5e83af" stroke-width="3.6" stroke-linecap="round"/>
<path d="M179.5 555h0M417.4 499.2h0M413.7 509.5h0M431.9 499.2h0M431.2 502h0M433.4 502h0M426.8 509h0M432.3 508.6h0M426.8 513.9h0M430.5 515h0M431.2 522.2h0M432.7 522.2h0M435.1 528.3h0M441 524.4h0M443.2 523.3h0M445.9 518.9h0M453.3 524h0M443.2 501h0M450.5 503.6h0M456.4 507.5h0M455.7 511.3h0M468.4 518.9h0M470.6 518.3h0M364 520h0M379.7 520.7h0M391.8 520.7h0M397.7 520.7h0M409.3 521h0M414.1 522.9h0M401.6 526h0M405.6 525.5h0M407.8 527.2h0M408.9 528.8h0M383 527.2h0M388.5 527.2h0M385.2 530.5h0M372.5 527.7h0M337 531h0M339.2 531h0M340.8 531h0M353.9 531h0M503.3 492.2h0M502.2 494.4h0M485.8 496.4h0M489.7 496.4h0M487.5 499.2h0M482 501h0M471.8 505.1h0M471.1 518.3h0M482.7 518.3h0M532.8 528.3h0M536.8 527.2h0M540.1 527.2h0M518.2 531h0M343.6 524.7h0M345.8 524.6h0M348 524.4h0M350.2 524.8h0M352.4 524.1h0M354.6 524.7h0M356.8 524.6h0M359 524.2h0M361.1 524.6h0" fill="none" stroke="#73739b" stroke-width="3.6" stroke-linecap="round"/>
<path d="M81.6 558.3h0M170.3 548.5h0M171.9 545.2h0M549.5 543.7h0M517.1 547h0M519.3 547h0M521.5 547h0M532.4 547h0M533.5 546.6h0M541.2 547h0M544.4 546.6h0M547.7 546h0M579.9 543.7h0M524.7 553.5h0M188.4 557.2h0M324.2 554.9h0M432.6 560h0" fill="none" stroke="#96587a" stroke-width="3.6" stroke-linecap="round"/>
<path d="M432.3 547.8h0M426.2 557.2h0M195.3 556h0M509.4 535.8h0M513.1 536.9h0M513.1 539.7h0M499.6 561h0" fill="none" stroke="#bb3c57" stroke-width="3.6" stroke-linecap="round"/>
<path d="M290.8 559.4h0M187 555h0" fill="none" stroke="#d32a40" stroke-width="3.6" stroke-linecap="round"/>
<path d="M174.7 545.2h0M176.4 543.5h0M182.4 546.3h0M184.5 545.2h0M187 545.2h0M190.9 545.2h0M192.7 545.2h0M199.7 545.2h0M201.5 545.2h0M207.4 545.2h0M216.8 545.2h0M224.9 545.2h0M230.8 545.2h0M238.2 545.2h0M240.9 545.2h0M272.6 545.2h0M297.8 544.8h0M300 544.8h0M302.2 544.8h0M304.4 544.8h0M307 543.9h0M309.2 543.9h0M315.8 543.7h0M319.7 552.3h0M346.5 543.7h0M353.9 543.7h0M367.3 543.7h0M368.8 543.7h0M371.6 543.7h0M385.2 543.7h0M395.7 543.7h0M417.2 547.8h0M429.2 543.7h0M431.2 543.7h0M452.7 543.7h0M454.6 543.7h0M457.9 543.7h0M467.3 543.7h0M474.3 543.7h0M484.2 549.1h0M485.8 551.8h0M491 543.7h0M494.2 543.7h0" fill="none" stroke="#e81a2c" stroke-width="3.6" stroke-linecap="round"/>
<path d="M407.4 543.7l4.3 -4.9l4.3 4.9l-4.3 4.9z" fill="#9B30FF"/>
<path d="M180.6 670.9h0M182.8 670.9h0M184.3 670.9h0M135.7 678h0M318 667.6h0M320 667h0M323.4 667.6h0M327.4 664.8h0M221.2 673.1h0M352.4 666.5h0M361.8 668h0M366.6 670.2h0M369.9 670.2h0M379.7 670.2h0M382.4 669.8h0M407.3 672.4h0M441.5 673.5h0M448.7 671.3h0M450.9 672.4h0M454.2 672.9h0M457.5 672.4h0M459.7 671.3h0M463 672.9h0M472.1 671.3h0M473.9 672.9h0M472.6 672h0M483.6 673.1h0M485.8 673.1h0M491.7 669.8h0M500 669.8h0M501.3 672h0M502.8 671.3h0M514.9 672.4h0M518.2 668.7h0M528.5 674.6h0M532.8 673.1h0M532.8 668h0M535.7 668h0M538.5 668h0M540.5 668h0M538.5 673.5h0M542.9 674.2h0M551 674.6h0M558 675.7h0M562 675.3h0M611.2 675.3h0M180 671h0M182.2 670.6h0M184.4 670.6h0M186.6 670.5h0M190.9 670.8h0M195.3 670.9h0M197.5 670.5h0M199.7 670.7h0M201.9 670.7h0M203 670.9h0M210.7 670.7h0M222.3 670.5h0M233.6 670.5h0M258.4 670.8h0M278.1 670.4h0M284.4 670.9h0M288.4 670.4h0M291.7 670.5h0M297.6 670.7h0M75.8 682h0M77.5 681.1h0M68.1 681.2h0M66.2 682.2h0M67.1 681.1h0M75.5 682.3h0M67.5 681.4h0M67.5 681.3h0M68.4 681.2h0M71.8 681.2h0M74 681.5h0M66.3 681.9h0M71.2 681h0M75.3 681.5h0M81 681.2h0M77.2 681.5h0M80.5 681.1h0M70.5 682.1h0M77.1 682.3h0M72.1 682.2h0M67.5 682.4h0M79.8 681.5h0M81.3 682.3h0M80.2 682.4h0M76.4 682.3h0M72.3 681.8h0M92.7 681.1h0M88.3 681.5h0M87.5 681.6h0M94.5 681.4h0M91.9 681.3h0M87.5 681.8h0M85.8 681h0M91.4 681.1h0M87.8 681.7h0M93.3 682.3h0M88.6 681.6h0M103.2 681.6h0M99.1 682.1h0M99.4 681.9h0M98.2 681.6h0M103.1 681.8h0M104.8 681.1h0M98.3 681.6h0M102.8 681.8h0M100.6 681.2h0M110.7 681.2h0M114.5 680.9h0M113.6 681.9h0M119.6 681h0M130.4 682.4h0M126.3 682.4h0M137.3 681.3h0M127.7 681.6h0M124.3 681.7h0M113.7 681.9h0M137.7 682.2h0M122.8 681.7h0M121 682.5h0M121.1 681.7h0M138 680.9h0M112.2 682h0M114.2 681.6h0M131.4 681.6h0M120.3 682.4h0M110.3 682.4h0M113.7 681h0M131 680.9h0M116 681.6h0M111.4 682.5h0M114 682.2h0M111 682h0M135.2 682.2h0M111.3 681.9h0M118.4 682.5h0M160.3 681.1h0M167.3 681.9h0M162.2 682.3h0M146.5 681.7h0M158.1 682.3h0M151.3 681.8h0M149.5 682h0M153.3 681.6h0M162.3 681.6h0M147.8 681.2h0M157 681.9h0M154 681.2h0M159.5 681.2h0M159.3 681.9h0M159.5 682.2h0M154.9 681.9h0M155 681.5h0M153.7 681.5h0M163.9 681.9h0M154.4 681.9h0M152.8 681.1h0M166.7 681.4h0M148.3 681.2h0M166 681.1h0M163 681.3h0M153.7 681.7h0M152.3 681.6h0M162.3 681h0M182.4 681.5h0M173.6 681.1h0M179.8 681h0M179.8 681.4h0M177.5 681.5h0M176.7 682.3h0M179.5 681.2h0M173.2 681.8h0M173.2 681.6h0M184.9 681.8h0M184.4 682.1h0M178.1 682.1h0M187.2 681.8h0M203.5 682.1h0M205.9 682.3h0M184.2 681h0M187.3 682.6h0M200 681.6h0M192.7 682.3h0M218.5 682.3h0M183.2 681.2h0M206.9 682h0M203.7 681.1h0M191.7 682.1h0M186.3 681.1h0M206.5 680.7h0M218 681.5h0M217.6 682.7h0M214.4 682.3h0M189.5 680.9h0M190.5 682.5h0M201.6 681h0M191 682h0M215.3 681.6h0M201.3 681.4h0M211.2 682.1h0M205.8 681h0M197.6 681.4h0M183.6 681.6h0M218.1 680.8h0M196.8 681.3h0M206.9 682.4h0M188 680.9h0M214.8 681.2h0M216 680.9h0M194.4 682.2h0M193.8 681.6h0M201.5 682.3h0M216.9 682.5h0M223.6 682.6h0M225.1 681.1h0M185.5 681.3h0M218.2 682.1h0M220.9 682.4h0M182.3 681.3h0M199.1 682.6h0M217.3 680.8h0M213.3 681.4h0M182.9 680.8h0M204.9 681.5h0M193.2 680.7h0M242.1 681.7h0M239.5 680.8h0M240.6 680.9h0M247.7 680.7h0M243.1 681.6h0M229.9 680.9h0M250.7 681.7h0M258.3 681.7h0M261.6 682.5h0M255.3 681.6h0M251.6 681.8h0M262.5 680.8h0M253 681.9h0M230.9 681.7h0M266 681h0M234.6 682.2h0M257.7 681.3h0M229.3 681.1h0M263.3 682.3h0M232.2 682.1h0M231.4 682.6h0M230.3 681.7h0M233.1 682.5h0M233.8 681.6h0M255.2 680.9h0M245 681.6h0M252.2 682.6h0M264.4 682.4h0M238.5 681.6h0M252.6 681.4h0M241.2 680.7h0M237.2 682.2h0M230.6 681.2h0M259.7 682.5h0M233 682.6h0M256.9 681.6h0M258.9 681.7h0M249.5 682h0M253.9 681h0M237.2 681.2h0M266.1 682.6h0M262.1 682.3h0M231.9 682.2h0M261.7 680.8h0M314 681.7h0M329.4 681.6h0M310.1 682.1h0M308.6 680.8h0M313.6 682.3h0M282.7 681.6h0M303.1 680.9h0M283.7 681.5h0M324.8 682.1h0M322.1 681.9h0M307 681.4h0M274.7 682h0M311 682.5h0M306.6 682.3h0M318.8 682.7h0M271.4 681.9h0M321.9 681.9h0M270.8 682.4h0M329.1 681.9h0M316.5 682.7h0M323.9 681.5h0M294 681.2h0M276.3 681.3h0M277.9 681.9h0M318.2 681.4h0M282.1 681.8h0M271.3 681.3h0M287.8 681.7h0M286.3 681.8h0M291.3 681.3h0M316.3 682.1h0M322.1 682.2h0M278.3 682.2h0M329.4 682.3h0M304.2 681.9h0M278.5 682.6h0M286.5 682.7h0M274.7 682h0M283.5 681.3h0M289.5 682h0M329.5 682.5h0M285.6 682.3h0M305.1 680.9h0M327 681h0M301.9 680.7h0M274.1 682.5h0M300 681.6h0M312.1 680.8h0M325.6 682.1h0M313.4 682.1h0M316.4 681.9h0M301.8 681.3h0M323.4 681.4h0M292.3 681.1h0M305.5 680.8h0M273.4 681.9h0M327.4 681.3h0M283.7 681h0M299.9 681.5h0M327.1 681.3h0M302.2 680.9h0M306.8 682.4h0M312.3 681.2h0M320.1 682.2h0M279.8 682.6h0M325.4 681.8h0M292.4 682.5h0M337.1 680.8h0M339.5 680.9h0M333.4 681.6h0M352 680.9h0M327.3 681.6h0M335.8 682.3h0M341.1 682.3h0M363.9 682.1h0M333.2 681.7h0M347.7 680.9h0M342.1 680.8h0M363.3 682.4h0M341 682.7h0M354.8 682.6h0M325.2 681h0M357.9 681.9h0M329.7 682h0M330.5 681.9h0M357.8 682.4h0M337.5 681h0M326.2 682.4h0M358.1 681.7h0M359.2 682.4h0M333.9 681.4h0M356.3 681.6h0M336.9 681.6h0M364.7 682.2h0M362.9 681.2h0M327.6 682.1h0M345.7 681h0M327.7 681.6h0M342.1 682.3h0M360 681.6h0M327.3 682.3h0M341.7 681h0M327.6 680.9h0M342.4 681h0M350 682.4h0M331.5 681.3h0M349 682h0M327 681.1h0M359.6 682.6h0M335.6 680.8h0M341.8 682.6h0M333.4 680.7h0M358.1 682.4h0M325.6 681.9h0M372.8 682.3h0M371.3 681.8h0M373.4 681.4h0M373.1 682.2h0M374.3 681.8h0M405.2 681.3h0M379.7 681.9h0M382.2 682.3h0M409.7 681.2h0M417.2 682.4h0M419.2 681.9h0M404.1 681.9h0M393.9 681.8h0M405 682.4h0M387.5 680.8h0M396.2 682.4h0M399.8 681.9h0M406.5 681.8h0M387.9 680.9h0M415.2 682.6h0M402.1 681.7h0M385.5 682.3h0M387.6 681.3h0M386.1 680.9h0M385.2 682h0M404.2 681.7h0M390.4 681.6h0M387 682.2h0M418.9 681.9h0M410.3 681.3h0M396.2 682.2h0M385.8 682.6h0M398.8 682.7h0M394.2 680.9h0M402.8 682.1h0M410.9 681.6h0M403.4 682h0M406 681.8h0M406.3 682.1h0M418.7 681.7h0M399.5 681.4h0M415.3 681.1h0M385.1 681.7h0M381.7 682.4h0M404.8 681.6h0M392.9 681.6h0M382.8 681.8h0M401.2 682.3h0M391.6 682.6h0M389.4 681.8h0M425.9 682h0M438.6 681h0M446.5 681.5h0M437.7 682h0M465.3 682.4h0M474.8 681.8h0M436.9 682.2h0M459.4 681.2h0M437.4 682.5h0M444.6 681.9h0M452.3 681.8h0M462.5 680.8h0M424.3 680.7h0M438 680.7h0M449.5 682.5h0M432.2 680.6h0M440 681.7h0M457.5 682.5h0M471.3 682.1h0M443 681.7h0M472 681.7h0M449.3 682.4h0M454.3 680.8h0M433.3 681.7h0M435.4 682.1h0M462.9 682.8h0M475.8 681.6h0M432.8 680.8h0M428.9 680.7h0M452 681h0M463.8 681.6h0M459.2 682.8h0M446.9 681.8h0M467.5 682.3h0M464.5 680.8h0M450.1 681h0M438.4 682.7h0M466.3 682.7h0M463.9 681.7h0M430 682h0M459.6 681.3h0M442.2 681.5h0M423.9 681.7h0M431.2 682.2h0M444.7 681.1h0M446.1 682.1h0M464.6 681.8h0M449.3 681.2h0M473.3 681.7h0M431.7 682h0M435.1 680.9h0M471.1 682.7h0M424.2 682.2h0M425.9 682.3h0M435.7 682.3h0M435.8 681.7h0M455.2 681.8h0M427.1 681h0M454.8 681.6h0M453.1 682h0M467.7 681.8h0M475.3 682.4h0M459.7 681.8h0M428.9 682.1h0M455.6 681.8h0M446 681.1h0M485.3 682.6h0M476.9 681.6h0M483.9 682.3h0M487.8 682.2h0M479.9 681.6h0M476.9 682.5h0M482.3 681.7h0M470.2 681.2h0M490.9 680.8h0M491.4 682.4h0M470.4 682.6h0M476.6 682.8h0M488.1 682.5h0M481.1 680.7h0M480.9 682.5h0M484.7 680.8h0M471.3 681.9h0M485.7 681.5h0M485.9 681.9h0M474 681.2h0M483.2 682.8h0M471 682.8h0M474.5 682.3h0M488.8 681.8h0M553.4 681.6h0M566.8 680.9h0M510.5 680.7h0M586 681.5h0M570.2 682h0M605.7 681.4h0M525.8 682.7h0M517.8 682.2h0M543 681.4h0M540.1 681h0M507.4 682.4h0M582.9 681.5h0M603.3 682.2h0M607.5 682.6h0M568.3 680.8h0M536 682h0M555.2 682.5h0M514 682.1h0M571.3 681.5h0M550.8 681.2h0M612.8 681.4h0M561.3 682.1h0M505.7 681.3h0M556.4 682.1h0M507.3 680.7h0M533.1 681h0M509.9 680.7h0M588.5 681h0M584.8 680.8h0M555.9 681.3h0M557.8 681.8h0M499.4 682.4h0M596.9 680.8h0M561.8 680.9h0M610.1 682.7h0M562.4 682.2h0M554.3 681h0M550.1 682.1h0M531.9 680.8h0M554.4 681.2h0M559.5 681.2h0M496.2 680.7h0M613.3 682.5h0M610.8 681.8h0M508.8 681.6h0M545.9 682h0M575.9 681.1h0M548.2 681.8h0M525.6 682.2h0M554.1 682.8h0M585.5 682.3h0M543.3 681.5h0M499.1 681.6h0M563.9 682.2h0M557.8 682.1h0M576.5 682.6h0M555.8 681.7h0M517.8 681h0M558.9 680.7h0M597.3 682h0M612.1 681h0M552.1 681h0M518.7 681h0M574.8 682.1h0M612.1 681.5h0M609.1 682h0M587.1 682.2h0M504.5 682.2h0M569.3 680.9h0M517.4 682.4h0M573.7 680.8h0M585.4 680.8h0M546.4 682.5h0M524.1 680.8h0M598.8 682.1h0M587.6 680.6h0M535.1 682.7h0M515.6 682.2h0M528.7 680.8h0M614.4 682.6h0M506.4 682.2h0M597.4 682.3h0M615.2 681.6h0M573.7 682.3h0M610.8 681.2h0M603.2 681.4h0M569.4 682h0M564.1 682.2h0M516.6 682.1h0M522.4 681.2h0M585.6 681.8h0M502.7 682.3h0M598 682.3h0M530.3 681.6h0M596.5 681.1h0M551 680.7h0M570 681.9h0M504.6 681.8h0M533.1 681.1h0M554.9 681.4h0M578.2 681.2h0M527.5 682.2h0M568.5 682.2h0M560.8 682.6h0M592.7 681.4h0M572.4 680.9h0M507.5 682h0M608.4 682.4h0M537.5 681.3h0M509.5 682.5h0M497 682.8h0M590.5 681.6h0M505.8 681.6h0M499 682.6h0M578.7 680.8h0M506.5 682.3h0M607.8 681.8h0M590.8 681.7h0M573.4 681.8h0M513.4 680.8h0M531.3 682.7h0M588.6 680.9h0M608.6 681.1h0M567.3 681.5h0M513.1 682.1h0M569.3 682.4h0M547.7 681.4h0M571.8 681h0M497.8 681.7h0M512.8 681.7h0M522 681.9h0M581.7 680.7h0M550.8 681h0M572.6 680.8h0M523 681.5h0M551.7 682.7h0M517.7 681.8h0M513.4 681.1h0M525.2 680.7h0M602 682.4h0M521.9 681.3h0M571.1 682h0M524.5 681.1h0M503 681.9h0M602.9 682.7h0M613.8 682h0M504.2 681.1h0M550.7 681.7h0M608.8 682.5h0M593.8 681.4h0M590.9 681.4h0M538.9 681h0M509.9 682.2h0M556.7 682.4h0M606.9 682.2h0M586.4 682.1h0M568.5 682.1h0M561.1 682.7h0M519.2 681.7h0M583.1 682h0M579 681.6h0M580.1 682.7h0M571.2 681.9h0M557.7 681.7h0M602.4 681.6h0M577.4 682.4h0M504.7 681.1h0" fill="none" stroke="#5e83af" stroke-width="3.6" stroke-linecap="round"/>
<path d="M171.2 667.8h0M327.6 664.8h0M332.7 665.9h0M334.2 666.5h0M363.5 662.6h0M372.5 664.8h0M582.8 660h0M579.9 664.8h0M584.5 668h0M561.3 668.7h0" fill="none" stroke="#73739b" stroke-width="3.6" stroke-linecap="round"/>
<path d="M81.9 656.9h0M89.7 659.1h0M171.2 659.3h0M173.4 659.3h0M180.6 663.7h0M216.1 658.6h0M181 663.7h0M196.4 664.1h0M198.2 664.1h0M293.9 663.7h0M297.8 663.7h0M375.4 651.4h0M372.1 656.7h0M517.7 656h0M519.3 656h0M521.5 656.2h0M523.6 656.2h0M525.2 656.2h0M532 656h0M533.5 656h0M541.2 656h0M544.4 657.5h0M549.5 657.5h0M548.4 658.9h0M88.7 681.4h0M123.3 681.3h0M204.9 680.9h0M294.2 681.2h0M289.9 681.4h0M327.8 682.2h0M347.7 681.8h0M419.1 682.5h0M588 680.8h0M542.8 681.4h0M521.5 682h0" fill="none" stroke="#96587a" stroke-width="3.6" stroke-linecap="round"/>
<path d="M170.1 635h0" fill="none" stroke="#a94a68" stroke-width="3.6" stroke-linecap="round"/>
<path d="M195.3 623.2h0M219.4 628.6h0M290.8 623.2h0M432.3 617h0M427 642.4h0M509 627.1h0M512.7 628h0M513.8 629.7h0M490.4 642.9h0M499.8 641.8h0M506.8 656.9h0" fill="none" stroke="#bb3c57" stroke-width="3.6" stroke-linecap="round"/>
<path d="M174.7 596.5h0M176.4 596.5h0M182.4 596.2h0M184.5 596.5h0M187 597h0M190.9 597.3h0M192.7 597.3h0M199.7 597.3h0M201.5 597.3h0M207.4 596.2h0M216.8 597.1h0M224.9 597.8h0M230.8 597.8h0M238.2 597.5h0M240.9 597.1h0M272.6 597.1h0M297.8 596.7h0M300 596.7h0M302.2 596.7h0M304.4 596.7h0M307 596.2h0M309.2 596.2h0M315.8 596.2h0M319.7 596.9h0M346.5 595.6h0M353.9 595.6h0M367.3 593.4h0M368.8 592.5h0M371.6 593.8h0M385.2 591.6h0M395.7 589.9h0M417.2 587.3h0M429.2 587.3h0M431.2 587.3h0M452.7 586.4h0M454.6 586h0M457.9 586h0M467.3 587h0M474.3 587h0M484.2 587h0M485.8 587h0M491 587h0M494.2 586.6h0M486.9 601h0M195.3 603.7h0" fill="none" stroke="#e81a2c" stroke-width="3.6" stroke-linecap="round"/>
<path d="M407.4 588.1l4.3 -4.9l4.3 4.9l-4.3 4.9z" fill="#9B30FF"/>
<path d="M506.3 694.8V772.6M507.7 694.8V772.6M509.2 694.8V772.6M67.1 695.4V703.2M81.7 695.4V703.2M86.1 695.4V703.2M90.5 695.4V703.2M92.5 695.4V703.2M96.3 695.4V703.2M102.7 695.4V703.2M104.5 695.4V703.2M107.1 695.4V703.2M112.4 695.4V703.2M115.3 695.4V703.2M524.5 695.4V703.2M527 695.4V703.2M529.8 695.4V703.2M549 695.4V703.2M554.3 695.4V703.2M557 695.4V703.2M559.6 695.4V703.2M562 695.4V703.2M565 695.4V703.2M567.7 695.4V703.2M572 695.4V703.2M575.6 695.4V703.2M579 695.4V703.2M582 695.4V703.2M586 695.4V703.2M589.7 695.4V703.2M593 695.4V703.2M596.7 695.4V703.2M600 695.4V703.2M603.7 695.4V703.2M607 695.4V703.2M610.7 695.4V703.2M613.5 695.4V703.2M615.2 695.4V703.2M358.5 721V737.5M511.2 721V733" stroke="#4a4ad0" stroke-opacity=".55" stroke-width=".65" fill="none"/>
<path d="M39.5 699.3H116.2M522.4 699.3H617.8M215.5 699.3H516.6M252 707.9H516.6M321.2 716.6H516.6M340.7 725.2H516.6M361.6 733.9H516.6M401.2 742.5H516.6M413.1 751.1H516.6M432.7 759.8H516.6M493.4 768.4H516.6" stroke="#00009c" stroke-width="1.3" fill="none"/>
<path d="M215.5 695.4v7.8M252 704v7.8M321.2 712.7v7.8M340.7 721.3v7.8M361.6 730v7.8M401.2 738.6v7.8M413.1 747.2v7.8M432.7 755.9v7.8M493.4 764.5v7.8M321.2 695.4v7.8M401.2 695.4v7.8M432.7 695.4v7.8M493.4 695.4v7.8M516.6 694.9V772.6M511 694.9V711.9" stroke="#00009c" stroke-width="1.6" fill="none"/>
<path d="M358.3 721.3v7.8M512.8 695.4v7.8" stroke="#00009c" stroke-width="2.6" fill="none"/>
<g font-size="9.4" font-style="italic" fill="#555">
<text x="50.2" y="711.3">USP40</text>
<text x="172.8" y="704.9">UGT1A8</text>
<text x="278.2" y="722.4">UGT1A9</text>
<text x="370" y="756.8">UGT1A4</text>
<text x="450.3" y="773.4">UGT1A1</text>
<text x="527.4" y="711.6">MROH2A</text>
</g>
<defs><linearGradient id="lg" x1="0" y1="0" x2="0" y2="1"><stop offset="0" stop-color="#e81a2c"/><stop offset="1" stop-color="#5b85b2"/></linearGradient></defs>
<rect x="640.6" y="535.2" width="15.4" height="75.5" fill="url(#lg)"/>
<path d="M640.6 535.4h3M656 535.4h-3M640.6 554.3h3M656 554.3h-3M640.6 573.2h3M656 573.2h-3M640.6 592.2h3M656 592.2h-3" stroke="#fff" stroke-width=".9" fill="none"/>
<g font-size="8" fill="#111">
<text x="660.2" y="538.7">1.00</text>
<text x="660.2" y="557.6">0.75</text>
<text x="660.2" y="576.5">0.50</text>
<text x="660.2" y="595.5">0.25</text>
<text x="640.8" y="530.4">R<tspan font-size="5.4" dy="-3">2</tspan></text>
</g>
</g>
</svg></body></html>
